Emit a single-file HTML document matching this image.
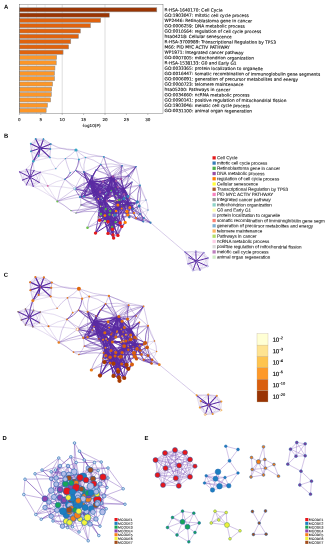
<!DOCTYPE html>
<html><head><meta charset="utf-8"><title>Figure</title>
<style>html,body{margin:0;padding:0;background:#fff;overflow:hidden;width:328px;height:550px}
svg{display:block;position:absolute;left:0;top:0}
.t{position:absolute;left:0;top:0;line-height:0;white-space:nowrap;transform-origin:0 0}
.d{-webkit-text-stroke:1.4px currentColor}
.l{-webkit-text-stroke:0.7px currentColor}
.l{font-family:"Liberation Sans",sans-serif}
.d{font-family:"DejaVu Sans","Liberation Sans",sans-serif}
</style></head>
<body><svg width="328" height="550" viewBox="0 0 328 550">
<defs><filter id="bl" x="-5%" y="-5%" width="110%" height="110%"><feGaussianBlur stdDeviation="0.35"/></filter></defs>
<rect width="328" height="550" fill="#fff"/>
<g id="panelA">
<line x1="27.96" y1="4.75" x2="27.96" y2="113.75" stroke="#cfcfcf" stroke-width="0.4"/>
<line x1="36.52" y1="4.75" x2="36.52" y2="113.75" stroke="#cfcfcf" stroke-width="0.4"/>
<line x1="45.08" y1="4.75" x2="45.08" y2="113.75" stroke="#cfcfcf" stroke-width="0.4"/>
<line x1="62.2" y1="4.75" x2="62.2" y2="113.75" stroke="#b4b4b4" stroke-width="0.45"/>
<line x1="105" y1="4.75" x2="105" y2="113.75" stroke="#b4b4b4" stroke-width="0.45"/>
<rect x="19.4" y="7.75" width="137.39" height="4.1" fill="#9a3503" stroke="#8e8e8e" stroke-width="0.55"/>
<rect x="19.4" y="13.05" width="89.88" height="4.1" fill="#9a3503" stroke="#8e8e8e" stroke-width="0.55"/>
<rect x="19.4" y="18.35" width="81.32" height="4.1" fill="#e0620d" stroke="#8e8e8e" stroke-width="0.55"/>
<rect x="19.4" y="23.65" width="71.05" height="4.1" fill="#e0620d" stroke="#8e8e8e" stroke-width="0.55"/>
<rect x="19.4" y="28.95" width="60.99" height="4.1" fill="#e0620d" stroke="#8e8e8e" stroke-width="0.55"/>
<rect x="19.4" y="34.25" width="59.06" height="4.1" fill="#e0620d" stroke="#8e8e8e" stroke-width="0.55"/>
<rect x="19.4" y="39.55" width="51.36" height="4.1" fill="#e0620d" stroke="#8e8e8e" stroke-width="0.55"/>
<rect x="19.4" y="44.85" width="49.22" height="4.1" fill="#e0620d" stroke="#8e8e8e" stroke-width="0.55"/>
<rect x="19.4" y="50.15" width="43.66" height="4.1" fill="#e0620d" stroke="#8e8e8e" stroke-width="0.55"/>
<rect x="19.4" y="55.45" width="37.24" height="4.1" fill="#fd9627" stroke="#8e8e8e" stroke-width="0.55"/>
<rect x="19.4" y="60.75" width="36.81" height="4.1" fill="#fd9627" stroke="#8e8e8e" stroke-width="0.55"/>
<rect x="19.4" y="66.05" width="35.52" height="4.1" fill="#fd9627" stroke="#8e8e8e" stroke-width="0.55"/>
<rect x="19.4" y="71.35" width="35.1" height="4.1" fill="#fd9627" stroke="#8e8e8e" stroke-width="0.55"/>
<rect x="19.4" y="76.65" width="35.1" height="4.1" fill="#fd9627" stroke="#8e8e8e" stroke-width="0.55"/>
<rect x="19.4" y="81.95" width="33.17" height="4.1" fill="#fd9627" stroke="#8e8e8e" stroke-width="0.55"/>
<rect x="19.4" y="87.25" width="32.31" height="4.1" fill="#fd9627" stroke="#8e8e8e" stroke-width="0.55"/>
<rect x="19.4" y="92.55" width="31.89" height="4.1" fill="#fd9627" stroke="#8e8e8e" stroke-width="0.55"/>
<rect x="19.4" y="97.85" width="31.24" height="4.1" fill="#fd9627" stroke="#8e8e8e" stroke-width="0.55"/>
<rect x="19.4" y="103.15" width="28.03" height="4.1" fill="#fd9627" stroke="#8e8e8e" stroke-width="0.55"/>
<rect x="19.4" y="108.45" width="26.75" height="4.1" fill="#fd9627" stroke="#8e8e8e" stroke-width="0.55"/>
<rect x="19.4" y="4.75" width="143.6" height="109" fill="none" stroke="#444" stroke-width="0.35"/>
<line x1="19.4" y1="113.75" x2="19.4" y2="114.95" stroke="#444" stroke-width="0.35"/>
<line x1="40.8" y1="113.75" x2="40.8" y2="114.95" stroke="#444" stroke-width="0.35"/>
<line x1="62.2" y1="113.75" x2="62.2" y2="114.95" stroke="#444" stroke-width="0.35"/>
<line x1="83.6" y1="113.75" x2="83.6" y2="114.95" stroke="#444" stroke-width="0.35"/>
<line x1="105" y1="113.75" x2="105" y2="114.95" stroke="#444" stroke-width="0.35"/>
<line x1="126.4" y1="113.75" x2="126.4" y2="114.95" stroke="#444" stroke-width="0.35"/>
<line x1="147.8" y1="113.75" x2="147.8" y2="114.95" stroke="#444" stroke-width="0.35"/>
</g>
<g id="netB" stroke-linecap="round" filter="url(#bl)">
<g stroke="#5A2BA2" fill="none">
<path d="M30.7 143.7L50.8 144M43.5 139.1L49.8 157.4M38.6 155.9L30.7 143.7M33.3 161.2L35.6 138.8M34 170.5L33.3 186.4M40.2 172.3L26.4 184.8M39.4 182.5L22.6 180M188.8 257.5L203.8 252.5M203.8 252.5L200 270M200 270L188.8 257.5" stroke-width="0.4" stroke-opacity="0.2"/>
<path d="M35.6 138.8L50.4 149M19.6 171.9L40.2 172.3M33.3 186.4L19.6 171.9M26.4 184.8L26.4 169.3M185 252L208 258M208 258L193 270.5M193 270.5L185 252" stroke-width="0.4" stroke-opacity="0.2"/>
<path d="M50.8 144L38.6 155.9M50.4 149L33.3 161.2M49.8 157.4L31 151.3M31 151.3L43.5 139.1M26.4 169.3L39.4 182.5M22.6 180L34 170.5M195.8 251.2L207.5 266.2M207.5 266.2L188 263.8M188 263.8L195.8 251.2" stroke-width="0.4" stroke-opacity="0.2"/>
<path d="M30.7 143.7L35.6 138.8M43.5 139.1L50.4 149M50.4 149L49.8 157.4M38.6 155.9L33.3 161.2M38.6 155.9L31 151.3M31 151.3L35.6 138.8M26.4 169.3L40.2 172.3M34 170.5L40.2 172.3M33.3 186.4L26.4 184.8M22.6 180L19.6 171.9M185 252L195.8 251.2M195.8 251.2L208 258M208 258L207.5 266.2M207.5 266.2L193 270.5M193 270.5L188 263.8M188 263.8L185 252M50.8 144Q62.5 150.8 76 150M49.8 157.4Q51.5 163.7 55.8 168.7M40.2 172.3Q53.3 173.3 64.9 179.3M39.4 182.5Q47.1 193.1 57.3 201.4M33.3 186.4Q53.5 196.4 71 210.6M47.8 185.9Q55.7 180.9 64.9 179.3M146 200Q142.3 202.7 139.2 206M148 210Q143.8 211.6 140 214M146 200Q143.5 192.5 140 185.4M150.5 222.7Q142.6 209 128 203M150.5 222.7Q136.9 215.5 128 203" stroke-width="0.4" stroke-opacity="0.4"/>
<path d="M30.7 143.7L43.5 139.1M35.6 138.8L50.8 144M49.8 157.4L33.3 161.2M19.6 171.9L26.4 169.3M19.6 171.9L34 170.5M34 170.5L39.4 182.5M40.2 172.3L33.3 186.4M39.4 182.5L26.4 184.8M26.4 184.8L22.6 180M26.4 184.8L19.6 171.9M22.6 180L26.4 169.3M47.8 185.9Q40.5 186.1 33.3 186.4M47.8 185.9Q44.3 178.9 40.2 172.3M188.8 257.5L185 252M185 252L203.8 252.5M203.8 252.5L208 258M208 258L200 270M200 270L193 270.5M193 270.5L188.8 257.5M50.4 149Q63.3 146.9 76 150M43.5 139.1Q57.6 151.1 76 150M124 189Q132.1 187.8 140 185.4M148 210Q143.5 208.2 139.2 206M148 210Q146.6 214.3 143.8 217.9" stroke-width="0.4" stroke-opacity="0.4"/>
<path d="M35.6 138.8L43.5 139.1M43.5 139.1L50.8 144M50.8 144L50.4 149M50.8 144L49.8 157.4M50.4 149L38.6 155.9M49.8 157.4L38.6 155.9M33.3 161.2L31 151.3M33.3 161.2L30.7 143.7M31 151.3L30.7 143.7M26.4 169.3L34 170.5M40.2 172.3L39.4 182.5M39.4 182.5L33.3 186.4M33.3 186.4L22.6 180M33.3 161.2Q29.9 165.3 26.4 169.3M33.3 161.2Q33.5 165.9 34 170.5M47.8 185.9Q43.6 184.3 39.4 182.5M188.8 257.5L195.8 251.2M195.8 251.2L203.8 252.5M203.8 252.5L207.5 266.2M207.5 266.2L200 270M200 270L188 263.8M188 263.8L188.8 257.5M40.2 172.3Q47.9 170.1 55.8 168.7M47.8 185.9Q52.1 193.9 57.3 201.4M47.8 185.9Q61.4 186.3 74.8 188.8M49.8 157.4Q57.5 159.7 65.4 158.6M146 200Q141.6 200.5 137.4 201.9" stroke-width="0.4" stroke-opacity="0.4"/>
<path d="M76 150Q71.4 155.1 65.4 158.6M76 150Q89.4 155.4 103.8 156.8M85.5 157.5Q94.6 155.4 103.8 156.8M65.4 158.6Q67.1 165.9 70.2 172.8M78.9 159.5Q80 166.3 84 172M70.2 172.8Q73 171.8 75.6 170.5M85.5 157.5Q93.8 159.3 100.7 164.4M135.9 166.8Q138.2 176 140 185.4M103.8 156.8Q119 164.4 135.9 166.8M84 172Q78.8 180.1 74.8 188.8M80 197Q82 196.9 84 196.4M92 176Q94.7 173.5 96 170M90 186Q82.5 188.1 74.8 188.8M81 205Q78.9 209.3 76 213M76 213Q73.3 212.3 71 210.6M122.1 165.7Q124.7 171.4 129 176M140 185.4Q141.8 193.2 146 200M146 200Q148.2 204.8 148 210M74.8 188.8Q66.1 195.2 57.3 201.4M112 188Q120.6 178.4 122.1 165.7M112 177Q104 173.6 96 170M112 177Q106.5 167.5 103.8 156.8M104 200Q93.5 200.9 84 196.4M100 207Q85.7 210.7 71 210.6" stroke-width="0.4" stroke-opacity="0.6"/>
<path d="M76 150Q77.4 154.8 78.9 159.5M78.9 159.5Q82.1 158.2 85.5 157.5M85.5 157.5Q83.1 164.6 84 172M103.8 156.8Q102.2 160.6 100.7 164.4M122.1 165.7Q129 166.1 135.9 166.8M64.9 179.3Q69.8 184.1 74.8 188.8M96 170Q99 167.8 100.7 164.4M71 210.6Q64.7 205.1 57.3 201.4M57.3 201.4Q68.5 198.7 80 197M129 176Q133.5 172.2 135.9 166.8M64.9 179.3Q58.9 189.6 57.3 201.4M112 177Q115.2 169.7 122.1 165.7M108 214Q124.3 211.7 137.4 201.9M124 189Q133.3 195.9 139.2 206M140 185.4Q133.1 193.3 124 198.4M150.5 222.7L185 252M150.5 222.7Q144.8 218.9 140 214M150.5 222.7Q143.7 219 136 218" stroke-width="0.4" stroke-opacity="0.6"/>
<path d="M76 150Q80.5 154 85.5 157.5M65.4 158.6Q72.2 157.7 78.9 159.5M65.4 158.6Q59.8 162.9 55.8 168.7M75.6 170.5Q79.8 171.5 84 172M100.7 164.4Q92.9 169.4 84 172M103.8 156.8Q113.5 160.1 122.1 165.7M100.7 164.4Q111.5 162.6 122.1 165.7M84 172Q84.2 184.2 84 196.4M80 197Q81 200.9 81 205M129 176Q134.8 180.4 140 185.4M96 170Q108.8 166 122.1 165.7M124 189Q119.7 177.6 122.1 165.7M95 192Q77.7 191 64.9 179.3M104 200Q89.2 210.6 71 210.6M108 214Q97.5 220.6 87.5 227.8M112 188Q124.3 206.8 143.8 217.9M150.5 222.7Q147.7 219.6 143.8 217.9M150.5 222.7Q146.8 222.7 143.3 221.5M150.5 222.7Q144.5 214.6 139.2 206" stroke-width="0.4" stroke-opacity="0.6"/>
<path d="M33.3 161.2Q36.5 159.1 38.6 155.9M112 188Q100.2 188.9 88.5 189.3M112 188Q115.3 194.2 119.4 199.9M108 214Q118.5 216.7 129.3 217.1M100 207Q106.1 196.7 115.3 188.8M90 181Q103.9 193.5 121.6 199.8M90 181Q107.6 188.5 124 198.4M112 188Q96.2 183.1 84 172M112 188Q96.9 181.9 84 172M112 177Q107.8 169.4 100.7 164.4M112 177Q105 171.9 100.7 164.4M112 177Q104.6 172.2 96 170M112 177Q105.8 167.8 103.8 156.8M124 189Q130.3 178.1 135.9 166.8M104 200Q93.5 200.9 84 196.4M100 207Q90.2 209.3 81 205M121 179Q130.8 175.8 135.9 166.8M124 198.4Q124.6 202.1 126.2 205.4" stroke-width="0.6" stroke-opacity="0.6"/>
<path d="M104 200Q113.3 200.9 121.6 205.3M100 207Q105.6 209.7 109.5 214.5M112 188Q102.6 181 92 176M112 188Q100.3 184.9 92 176M112 177Q117.6 171.8 122.1 165.7M112 177Q120.6 178.3 129 176M95 192Q84.7 191.6 74.8 188.8M95 192Q75.3 193.2 57.3 201.4M104 200Q87.8 198.6 74.8 188.8M100 207Q87.7 209 76 213M100 207Q90.9 215.7 87.5 227.8M110.2 196.2Q122.1 180.7 135.9 166.8M108 214Q124 211.7 140 214M127.8 214.8Q128.9 210.7 129.9 206.5M134 213Q132.6 209.3 129.9 206.5M100.6 206.4Q100.1 209 98.8 211.2M127.8 214.8Q127.4 213.1 127 211.5M116.9 191.3Q113.9 191.2 111 191.6M105.8 193.8Q102.7 193.5 100 192M132.3 204.3Q131.5 200.9 129.6 198M113.6 238.1Q118.4 232.9 121.7 226.6" stroke-width="0.6" stroke-opacity="0.6"/>
<path d="M112 188Q109.8 174.6 100.7 164.4M112 177Q122.5 168.5 135.9 166.8M124 189Q131.5 185.4 139.8 185.3M95 192Q87.4 194.3 80 197M95 192Q94.1 183.9 92 176M104 200Q92.9 204.3 81 205M108 214Q92.1 209.1 76 213M113 222Q99.5 221.5 87.5 227.8M118 187Q128.8 178.6 135.9 166.8M128 203Q136.5 211.5 143.3 221.5M105.7 209Q102.1 209.6 98.8 211.2M112.5 215Q111.6 212.9 110.2 211M99.6 220.2Q102.2 221.1 104.9 221.2M109.5 214.5Q107.3 212 105.7 209M129.9 206.5Q130.9 205.3 132.3 204.3M105.7 209Q103.1 207.9 100.6 206.4M133 209Q130.1 210.4 127 211.5M143.8 217.9Q146.9 220.6 150.5 222.7M119.5 194.1Q117.6 194.4 116 195.4M121.7 208.4Q120.6 204.1 119.4 199.9M104.9 215.6Q105.4 212.3 105.7 209M116 195.4Q116.5 197.9 117.1 200.4M116 181Q109.5 181.2 103 181.5M140 185.4Q134.4 191.5 127.8 196.5" stroke-width="0.6" stroke-opacity="0.6"/>
<path d="M112 188Q105.7 189.2 100 192M104 200Q107.5 205.3 110.2 211M112 177Q113.1 191.3 117.9 204.9M100 207Q107.6 198.2 116.9 191.3M128 203Q123 199.3 119.5 194.1M95 192Q87.1 193.3 80 197M95 192Q92.9 184.1 92 176M104 200Q92.2 197.3 80 197M104 200Q91.9 199.3 80 197M121 179Q120.1 172.2 122.1 165.7M108 233.4Q110.5 234 113 234.9M139.2 206Q136.2 209.2 134 213M113 176.5Q115.4 182.4 115.3 188.8M106.7 192.3Q108.8 193.9 110.2 196.2M115.6 222.1Q111.8 221.7 108 221.7M129.6 198Q125.5 198.5 121.6 199.8" stroke-width="0.8" stroke-opacity="0.6"/>
<path d="M104 200Q110.5 201.5 117.1 200.4M118 206Q125.5 207.6 133 209M108 214Q112.6 208.1 115.1 201.1M95 192Q109.1 197 124 198.4M95 192Q95.8 201.8 98.8 211.2M113 222Q120.4 218.3 127.8 214.8M90 181Q94.9 193.9 100.6 206.4M90 181Q105.6 181.8 121 179M109.5 214.5Q105.8 215.3 102.7 217.5M120.2 222.9Q116.4 226.2 112.5 229.3M109.5 214.5Q106.1 216 102.7 217.5M117.9 235.4Q119 230.6 121.7 226.6M113 234.9Q113.6 228.4 115.6 222.1" stroke-width="0.8" stroke-opacity="0.6"/>
<path d="M124 189Q126.9 198.3 129.8 207.7M124 189Q111.7 187.9 100 192M113 222Q115.5 213.5 117.9 204.9M100 207Q104.4 218 112.1 227M128 203Q134.4 208.1 140 214M95 192Q86.1 183.9 84 172M104 200Q99 191 90 186M95.5 233.1Q99.5 226.6 104.9 221.2M104 187.1Q107.6 191.3 110.2 196.2M113 176.5Q114.8 178.6 116 181M98.4 216.9Q99.7 215.4 101 214M98.4 216.9Q100 215.7 101 214M100 192Q103.1 192.3 105.8 193.8M101 214Q103.2 211.4 105.7 209M132 182.1Q123.8 185.8 115.3 188.8" stroke-width="0.8" stroke-opacity="0.6"/>
<path d="M112 188Q106.7 193.3 102.5 199.5M129.9 206.5Q133.2 205.3 136.1 203.3" stroke-width="1" stroke-opacity="0.6"/>
<path d="M129.9 206.5Q129.9 207.1 129.8 207.7" stroke-width="1" stroke-opacity="0.6"/>
<path d="M127.8 214.8Q129.4 210.8 129.9 206.5M100 192Q102.9 193 105.8 193.8" stroke-width="1" stroke-opacity="0.6"/>
<path d="M112 177Q123.7 171.3 135.9 166.8M103 181.5Q109.9 170.3 122.1 165.7" stroke-width="0.4" stroke-opacity="0.8"/>
<path d="M112 177Q120.5 176.7 129 176M95 192Q84.6 192.1 74.8 188.8" stroke-width="0.4" stroke-opacity="0.8"/>
<path d="M95 192Q90 195.5 84 196.4M100 207Q90.4 207.2 81 205M116 181Q118.8 173.3 122.1 165.7" stroke-width="0.4" stroke-opacity="0.8"/>
<path d="M112 188Q114.7 193.4 116 199.3M108 214Q108.8 207.4 107 201M113 222Q117.7 213.9 121.6 205.3M100 207Q89.1 203.9 80 197M90 181Q92.8 175.4 96 170M100 192Q98.9 195.3 98.3 198.8M127.8 214.8Q128.5 216 129.3 217.1M119.4 199.9Q117.2 200.2 115.1 201.1M102.7 217.5Q106.1 216.1 109.5 214.5M98.8 211.2Q99.7 212.8 101 214M109.5 214.5Q108.7 218.1 108 221.7M107 201Q111 201.4 115.1 201.1M129.8 207.7Q131.5 208.1 133 209M116 195.4Q114.2 192.5 111.4 190.6M129.8 207.7Q133.1 205.7 136.1 203.3M113.6 238.1Q117.1 230.6 120.2 222.9" stroke-width="0.6" stroke-opacity="0.8"/>
<path d="M95 192Q105.8 202 112.5 215M124 189Q127.5 201.6 134 213M112 177Q122.3 190.6 132.3 204.3M124 189Q127.5 182.9 129 176M104 200Q91.8 199.1 81 205M90 181Q91 178.5 92 176M90 181Q91.1 178.6 92 176M121.7 208.4Q120.5 204.2 119.4 199.9M121 179Q116.1 184.7 111.4 190.6M109.5 214.5Q107.2 212 105.7 209M136 218Q138.2 216.2 140 214M88.5 189.3Q95.1 195 102.5 199.5M127 211.5Q128.4 209 129.9 206.5M140 214Q137 209 136.1 203.3M115.6 222.1Q114.4 225.9 112.5 229.3M108 221.7Q110.8 218.8 112.5 215M129.8 207.7Q129.6 211.5 127.8 214.8M129.8 207.7Q128.5 211.2 127.8 214.8M116 211Q112.4 212 109.5 214.5" stroke-width="0.6" stroke-opacity="0.8"/>
<path d="M124 189Q115.3 192.9 105.8 193.8M112 177Q119.7 190.2 121.6 205.3M128 203Q132.8 203.1 137.4 201.9M112 188Q125.9 179.6 135.9 166.8M95 192Q93.3 188.4 90 186M90 181Q86.7 176.7 84 172M90 181Q81.6 183.4 74.8 188.8M119.5 194.1Q119 197.5 117.1 200.4M150.5 222.7Q143.7 218.9 136 218M115.6 222.1Q115.5 218.6 114.8 215.1M115.6 222.1Q114.9 218.6 114.8 215.1M117.9 204.9Q116.9 207.9 116 211M111.4 190.6Q111.1 191.1 111 191.6M136 218Q132.2 215.6 127.8 214.8M119.5 194.1Q118.7 197.4 117.1 200.4M116 211Q114.1 212.9 112.5 215M108 233.4Q110.3 231.4 112.5 229.3M102.5 199.5Q102 203.1 100.6 206.4M140 185.4Q141.6 195.8 139.2 206" stroke-width="0.6" stroke-opacity="0.8"/>
<path d="M33.3 161.2L40.2 148.2M78.9 159.5Q78.5 165.4 75.6 170.5M70.2 172.8Q68.1 176.5 64.9 179.3M90 186Q86.5 190.9 84 196.4M118 206Q122 200.4 127.8 196.5M118 206Q122.6 212.6 129.3 217.1M108 214Q112.9 223.9 113 234.9M113 222Q114.1 228.4 113 234.9M112 177Q117 186.3 124 194.2M100 207Q108.2 208.3 116 211M90 181Q101.7 195.6 117.9 204.9M118 206Q111.8 219.3 108 233.4M118 206Q118.7 220.7 117.9 235.4M118 206Q117.8 216.7 121.7 226.6M128 203Q116.6 209.5 104.9 215.6M124 189Q118.8 199.6 116 211M108 214Q118.2 208.6 129.8 207.7M128 203Q124.5 205.3 121.7 208.4M124 189Q128.3 202.7 129.3 217.1M133 209Q133.2 206.6 132.3 204.3M113 234.9Q110.5 234.2 108 233.4M121.7 208.4Q118.8 209.5 116 211M120.2 222.9Q123.2 218.1 127.8 214.8M108 221.7Q110 218.2 112.5 215M133 209Q129.3 207.7 126.2 205.4M88.5 189.3Q90.6 194.2 94.5 197.8M119.4 199.9Q118.2 199.9 117.1 200.4M132.3 204.3Q132.7 206.7 133 209M143.3 221.5Q134.9 219.8 127.8 214.8M119.5 194.1Q117.7 196.7 116 199.3M98.8 211.2Q98.1 214 98.4 216.9M118 187Q116.8 188.1 115.3 188.8" stroke-width="0.8" stroke-opacity="0.8"/>
<path d="M75.6 170.5Q71.3 176.1 64.9 179.3M104 200Q102.3 210.7 104.9 221.2M118 206Q119.9 214.9 125.2 222.4M113 222Q106.2 221.5 99.6 220.2M128 203Q122 201.3 116 199.3M95 192Q89.8 194.9 84 196.4M100 207Q89.9 202.2 80 197M90 181Q93.9 176 96 170M90 181Q84.5 173.4 75.6 170.5M90 181Q94.4 172.1 100.7 164.4M113 222Q110.5 227.7 108 233.4M118 206Q123.4 213.4 125.2 222.4M108 214Q120.9 211.8 134 213M124 189Q129 203.9 136 218M108 214Q111.3 214.9 114.8 215.1M128 203Q122 209.7 114.8 215.1M124 189Q129.6 198.5 133 209M143.8 217.9Q139.1 212.6 133 209M143.8 217.9Q139.9 217.6 136 218M116 211Q115 206.1 115.1 201.1M121 179Q123 186.5 124 194.2M115.6 222.1Q114.1 224.7 112.1 227M112.5 229.3Q116.5 226.3 120.2 222.9M132 182.1Q129.4 189.8 129.6 198M124 194.2Q123 197.1 121.6 199.8M127.8 196.5Q123.5 197.9 119.4 199.9M117.9 204.9Q119.9 202.5 121.6 199.8M140 185.4Q137.2 193.4 137.4 201.9" stroke-width="0.8" stroke-opacity="0.8"/>
<path d="M74.8 188.8Q77.4 192.9 80 197M84 172Q88.2 173.6 92 176M92 176Q90.2 180.8 90 186M104 200Q111.2 206.3 114.8 215.1M108 214Q116.3 208.1 126.2 205.4M95 192Q86.9 183.4 84 172M95 192Q93.6 188.1 90 186M104 200Q90.6 191.4 74.8 188.8M104 200Q95.1 194.9 90 186M90 181Q87.2 176.4 84 172M90 181Q90.6 183.5 90 186M90 181Q82.9 185.9 74.8 188.8M95 192Q91.7 189.7 90 186M113 222Q113.2 230.1 113.6 238.1M108 214Q110.9 226 113.6 238.1M112 188Q113.2 197.1 117.9 204.9M128 203Q123.1 204.8 117.9 204.9M124 189Q117.1 204.2 104.9 215.6M112 188Q121.2 198.7 127 211.5M112 188Q118.7 205.2 125.2 222.4M128 203Q130.9 211.1 136 218M112 188Q120.5 200.5 133 209M113 176.5Q114.2 178.9 116 181M117.9 235.4Q120.9 228.5 125.2 222.4M99.6 220.2Q100.7 217.2 101 214M124 198.4Q121.8 196.2 119.5 194.1M117.9 235.4Q114.7 232.8 112.5 229.3M115.3 188.8Q115.4 184.9 116 181M143.3 221.5Q141.3 213.7 139.2 206M117.9 235.4Q114.6 232.9 112.5 229.3M98.8 211.2Q104.4 212.2 109.5 214.5M117.1 200.4Q119.4 200.1 121.6 199.8M127 211.5Q127.6 213.1 127.8 214.8M121.7 226.6Q118.9 224 115.6 222.1M111.4 190.6Q114.6 188.7 118 187" stroke-width="0.8" stroke-opacity="0.8"/>
<path d="M33.3 161.2Q30.1 168.9 30.2 177.2M118 206Q115.3 210.5 112.5 215M124 189Q125.6 198.2 129.9 206.5M113 222Q114.1 218.6 114.8 215.1M128 203Q129 200.5 129.6 198M128 203Q124.9 204.5 121.6 205.3M90 181Q85 187.9 84 196.4M90 181Q88 189.1 84 196.4M90 181Q82.1 176.8 75.6 170.5M90 181Q94 171.8 100.7 164.4M95 192Q89.2 193.3 84 196.4M104 200Q97.4 216 95.5 233.1M104 200Q110.1 212.9 120.2 222.9M108 214Q111.9 212.2 116 211M118 206Q122.9 208.1 127 211.5M112 188Q121.9 200.2 127.8 214.8M112 188Q123.9 199.8 134 213M143.3 221.5Q139.8 219.4 136 218M139.2 206Q136.1 207.5 133 209M95.5 233.1Q100.6 226 102.7 217.5M121.7 208.4Q119.5 207 117.9 204.9M117.9 204.9Q119.5 202.2 121.6 199.8M124 194.2Q121.7 194 119.5 194.1M115.1 201.1Q115.5 200.2 116 199.3" stroke-width="1" stroke-opacity="0.8"/>
<path d="M104 200Q101.2 199.2 98.3 198.8M95 192Q103 193.4 111 191.6M95 192Q106.1 187.8 118 187M124 189Q127.1 193.3 129.6 198M128 203Q122.9 212.5 120.2 222.9M90 181Q87.8 190.7 80 197M90 181Q84.7 188.8 80 197M95 192Q93 184.1 92 176M95 192Q87.9 195.7 80 197M118 206Q108.6 212.9 99.6 220.2M104 200Q106.9 210.7 108 221.7M128 203Q128.5 205.5 129.8 207.7M118 206Q123 210.3 127.8 214.8M108 214Q115.1 205.2 124 198.4M124 189Q126.5 192.4 127.8 196.5M118 206Q122.7 201 127.8 196.5M118 206Q124.4 210.8 129.3 217.1M117.9 204.9Q122 205.7 126.2 205.4M110.2 196.2Q108.1 194.8 105.8 193.8M118 187Q114.3 189 111 191.6M113.6 238.1Q112.8 233.7 112.5 229.3" stroke-width="1" stroke-opacity="0.8"/>
<path d="M118 206Q121 202.2 124 198.4M124 189Q122.6 184 121 179M112 177Q110.3 189.2 107 201M100 207Q100.3 206.7 100.6 206.4M100 207Q99.3 209.1 98.8 211.2M90 181Q90.3 183.5 90 186M95 192Q86.7 183.5 84 172M118 206Q118.9 214.5 120.2 222.9M124 189Q123.9 198.8 121.7 208.4M118 206Q120.4 201.7 124 198.4M125.2 222.4Q123.1 224.2 121.7 226.6M102.5 199.5Q98.3 199.5 94.5 197.8M129.6 198Q133.9 199.2 137.4 201.9M121.7 226.6Q123.8 224.8 125.2 222.4" stroke-width="1" stroke-opacity="0.8"/>
<path d="M112 188Q113.6 188.5 115.3 188.8M112 188Q115 187.6 118 187M112 188Q108.1 187.2 104 187.1M108 214Q104.5 214.1 101 214M95 192Q91.6 191 88.5 189.3M95 192Q102.6 194.1 110.2 196.2M124 189Q124.5 193.7 124 198.4M113 222Q110.5 221.8 108 221.7M113 222Q112.5 218.5 112.5 215M113 222Q111 216.7 110.2 211M112 177Q115.1 183.9 116.9 191.3M100 207Q97.3 202.4 94.5 197.8M128 203Q130.8 205.8 133 209M128 203Q127.5 207.2 127 211.5M112 188Q107.9 194 104 200M112 188Q103.7 190.8 95 192M112 188Q111.7 182.5 112 177M112 188Q101 184.6 90 181M104 200Q106.1 207 108 214M104 200Q107.5 211.4 113 222M104 200Q116 201.6 128 203M118 206Q120.3 197.2 124 189M118 206Q109 207.1 100 207M108 214Q101.9 202.8 95 192" stroke-width="1.2" stroke-opacity="0.8"/>
<path d="M112 188Q113.9 184.4 116 181M104 200Q102.5 199.1 101.2 198M104 200Q104.8 196.9 105.8 193.8M108 214Q111.4 214.6 114.8 215.1M95 192Q100.8 192.2 106.7 192.3M124 189Q120.9 188.2 118 187M112 177Q116.4 178.5 121 179M90 181Q97.9 187.3 106.7 192.3M112 188Q119.6 196 128 203M104 200Q111.3 202.4 118 206M104 200Q114.5 195.4 124 189M104 200Q102.1 203.5 100 207M108 214Q110.3 218.1 113 222M108 214Q117.6 207.7 128 203M95 192Q97 199.7 100 207M124 189Q118 183 112 177M113 222Q121 212.9 128 203M113 222Q106.5 219.9 99.6 220.2M118 206Q111.5 212.9 108 221.7M100 207Q103.7 214.5 108 221.7M100 207Q103.8 223.9 113.6 238.1M113 222Q117 225 121.7 226.6" stroke-width="1.2" stroke-opacity="0.8"/>
<path d="M118 206Q116.8 210.7 114.8 215.1M108 214Q108.8 214.2 109.5 214.5M124 189Q120 185 116 181M112 177Q114.3 182.7 115.3 188.8M112 177Q107.7 181.8 104 187.1M100 207Q103.8 204.4 107 201M100 207Q99.3 212 98.4 216.9M90 181Q101.5 178.5 113 176.5M112 188Q115 197 118 206M112 188Q118 188.1 124 189M112 188Q105.7 197.3 100 207M104 200Q99.5 196 95 192M104 200Q107.6 188.4 112 177M104 200Q97.9 189.8 90 181M118 206Q112.9 209.8 108 214M118 206Q116.2 214.2 113 222M118 206Q123.1 204.7 128 203M108 214Q104.2 210.3 100 207M95 192Q103.4 184.4 112 177M95 192Q92.7 186.4 90 181M124 189Q126.3 195.9 128 203M113 222Q105.9 215 100 207M112 177Q100.9 178.2 90 181M104 200Q110.3 214 112.5 229.3M108 214Q111 224.3 113 234.9" stroke-width="1.2" stroke-opacity="0.8"/>
<path d="M112 188Q111.6 189.3 111.4 190.6M104 200Q102 196 100 192M95 192Q98.3 194.8 101.2 198M100 207Q105 209.3 110.2 211M90 181Q97.3 188.2 105.8 193.8M108 214Q103.8 217.2 99.6 220.2M118 206Q115 217.6 112.5 229.3" stroke-width="1.4" stroke-opacity="0.8"/>
<path d="M104 200Q107.2 198.3 110.2 196.2M108 214Q109 212.4 110.2 211M108 214Q105.3 215.7 102.7 217.5M108 214Q108.3 217.8 108 221.7M124 189Q123.1 194.5 121.6 199.8M113 222Q107.9 219.6 102.7 217.5M128 203Q127 204.1 126.2 205.4M90 181Q88.8 185.1 88.5 189.3" stroke-width="1.4" stroke-opacity="0.8"/>
<path d="M124 189Q120.2 192.5 116 195.4M113 222Q112.4 224.5 112.1 227M100 207Q102.9 207.8 105.7 209" stroke-width="1.4" stroke-opacity="0.8"/>
<path d="M112 188Q114.5 189.5 116.9 191.3M112 188Q111.5 192.2 110.2 196.2M104 200Q105.7 196.3 106.7 192.3M108 214Q103.3 215.6 98.4 216.9M95 192Q97.5 192 100 192M95 192Q99.1 195.4 102.5 199.5M95 192Q100.4 193.3 105.8 193.8M124 189Q119.6 189.2 115.3 188.8" stroke-width="1.6" stroke-opacity="0.8"/>
<path d="M104 200Q107.6 195.9 111 191.6M124 189Q126.1 192.6 127.8 196.5M112 177Q112.5 176.8 113 176.5M112 177Q111.7 184.3 111 191.6M90 181Q97.1 183.9 104 187.1" stroke-width="1.6" stroke-opacity="0.8"/>
<path d="M118 206Q119.7 207.4 121.7 208.4M112 177Q112.1 183.8 111.4 190.6M100 207Q102.6 211.2 104.9 215.6M128 203Q130.2 203.6 132.3 204.3M90 181Q100.4 186.5 111.4 190.6" stroke-width="1.6" stroke-opacity="0.8"/>
<path d="M30.2 177.2L19.6 171.9M30.2 177.2L22.6 180M30.2 177.2L39.4 182.5M196.2 261.2L195.8 251.2M196.2 261.2L207.5 266.2M196.2 261.2L188 263.8M118 206Q119.8 205.7 121.6 205.3M118 206Q117.3 202.6 116 199.3M95 192Q96.7 195.4 98.3 198.8M124 189Q120.3 189.7 116.9 191.3M113 222Q108.9 221.7 104.9 221.2M128 203Q125.7 200.9 124 198.4M128 203Q124.7 205.6 121.7 208.4M90 181Q94.4 189.8 98.3 198.8M90 181Q100.1 187.1 111 191.6M113 222Q104.1 227.4 95.5 233.1M108 214Q100.9 223 95.5 233.1M100 207Q111.6 219.6 117.9 235.4" stroke-width="1" stroke-opacity="1"/>
<path d="M30.2 177.2L26.4 169.3M30.2 177.2L26.4 184.8M30.2 177.2L34 170.5M196.2 261.2L203.8 252.5M196.2 261.2L200 270M196.2 261.2L188.8 257.5M118 206Q114.2 208.7 110.2 211M100 207Q108.2 217.1 112.5 229.3" stroke-width="1" stroke-opacity="1"/>
<path d="M30.2 177.2L40.2 172.3M30.2 177.2L33.3 186.4M196.2 261.2L185 252M196.2 261.2L208 258M196.2 261.2L193 270.5M113 222Q112.4 225.6 112.5 229.3M100 207Q101.3 203.3 102.5 199.5" stroke-width="1" stroke-opacity="1"/>
<path d="M40.2 148.2L35.6 138.8M40.2 148.2L50.8 144M40.2 148.2L38.6 155.9M104 200Q103.3 199.7 102.5 199.5M118 206Q117.9 205.5 117.9 204.9M108 214Q106.6 211.6 105.7 209M95 192Q98.4 186.3 103 181.5M95 192Q98 199.1 100.6 206.4M124 189Q124.1 191.6 124 194.2M112 177Q116 185.5 119.5 194.1M100 207Q100.6 210.5 101 214M90 181Q96.5 181.9 103 181.5M104 200Q106.8 217.9 113 234.9M113 222Q114.7 229 117.9 235.4" stroke-width="1.2" stroke-opacity="1"/>
<path d="M40.2 148.2L43.5 139.1M40.2 148.2L50.4 149M40.2 148.2L49.8 157.4M104 200Q109.5 201 115.1 201.1M118 206Q117.6 203.2 117.1 200.4M118 206Q120.1 203.1 121.6 199.8M108 214Q110.3 214.4 112.5 215M124 189Q121.9 191.7 119.5 194.1M113 222Q114.3 222.1 115.6 222.1M100 207Q100.4 202.5 101.2 198M128 203Q129 204.8 129.9 206.5M100 207Q106.5 220.9 113 234.9" stroke-width="1.2" stroke-opacity="1"/>
<path d="M40.2 148.2L30.7 143.7M40.2 148.2L31 151.3M40.2 148.2L33.3 161.2M112 188Q108.7 190.7 105.8 193.8M112 188Q115.6 191.2 119.5 194.1M108 214Q103.5 212.3 98.8 211.2M95 192Q99.8 190.1 104 187.1M124 189Q128.2 185.8 132 182.1M113 222Q116.6 222.7 120.2 222.9M113 222Q111 218.4 109.5 214.5M113 222Q109.2 218.5 104.9 215.6M128 203Q129 205.3 129.8 207.7M128 203Q124.6 201.8 121.6 199.8M100 207Q105.7 219.7 108 233.4" stroke-width="1.2" stroke-opacity="1"/>
<path d="M112 188Q111.5 189.8 111 191.6M104 200Q105.5 200.6 107 201M104 200Q105 204.5 105.7 209M95 192Q101.3 196 107 201M112 177Q114.1 178.9 116 181M104 200Q114.3 212.3 121.7 226.6" stroke-width="1.4" stroke-opacity="1"/>
<path d="M112 188Q109.5 190.4 106.7 192.3M112 188Q107.6 184.6 103 181.5M118 206Q116.5 203.6 115.1 201.1M118 206Q118.7 203 119.4 199.9M108 214Q106.5 214.9 104.9 215.6M108 214Q106.4 217.6 104.9 221.2M112 177Q115.6 181.6 118 187M108 214Q113.7 219 120.2 222.9" stroke-width="1.4" stroke-opacity="1"/>
<path d="M104 200Q102.2 203.2 100.6 206.4M104 200Q99.3 198.6 94.5 197.8M95 192Q94.6 194.9 94.5 197.8M113 222Q117.2 224.5 121.7 226.6M112 177Q107.7 179.6 103 181.5M112 177Q108.4 185.2 105.8 193.8M100 207Q100.9 212.3 102.7 217.5M128 203Q127.8 199.8 127.8 196.5M90 181Q94.9 186.6 100 192" stroke-width="1.4" stroke-opacity="1"/>
<path d="M112 188Q114.3 191.5 116 195.4M118 206Q122.1 205.5 126.2 205.4M108 214Q112.1 212.8 116 211M112 177Q109.4 184.7 106.7 192.3M100 207Q99.6 202.8 98.3 198.8M90 181Q91.7 189.6 94.5 197.8M90 181Q95 189.9 101.2 198M90 181Q95.3 190.9 102.5 199.5" stroke-width="1.6" stroke-opacity="1"/>
<path d="M118 206Q116.9 208.5 116 211" stroke-width="1.6" stroke-opacity="1"/>
<path d="M128 203Q132.1 202.9 136.1 203.3" stroke-width="1.6" stroke-opacity="1"/>
</g>
<circle cx="112" cy="188" r="0.3" fill="#5B2CA0"/>
<circle cx="104" cy="200" r="0.3" fill="#5B2CA0"/>
<circle cx="118" cy="206" r="0.3" fill="#5B2CA0"/>
<circle cx="108" cy="214" r="0.3" fill="#5B2CA0"/>
<circle cx="95" cy="192" r="0.3" fill="#5B2CA0"/>
<circle cx="124" cy="189" r="0.3" fill="#5B2CA0"/>
<circle cx="113" cy="222" r="0.3" fill="#5B2CA0"/>
<circle cx="112" cy="177" r="0.3" fill="#5B2CA0"/>
<circle cx="100" cy="207" r="0.3" fill="#5B2CA0"/>
<circle cx="128" cy="203" r="0.3" fill="#5B2CA0"/>
<circle cx="90" cy="181" r="0.3" fill="#5B2CA0"/>
<circle cx="40.2" cy="148.2" r="0.5" fill="#35A7C4"/>
<circle cx="30.2" cy="177.2" r="0.5" fill="#8A63BE"/>
<circle cx="196.2" cy="261.2" r="0.5" fill="#9C96DC"/>
<circle cx="139.8" cy="185.3" r="0.5" fill="#35A7C4"/>
<circle cx="121.6" cy="205.3" r="0.5" fill="#4DAF4A"/>
<circle cx="126.2" cy="205.4" r="0.51" fill="#4DAF4A"/>
<circle cx="116" cy="199.3" r="0.51" fill="#8DD3C7"/>
<circle cx="121.6" cy="199.8" r="0.53" fill="#80B1D3"/>
<circle cx="94.5" cy="197.8" r="0.54" fill="#8DD3C7"/>
<circle cx="115.3" cy="188.8" r="0.56" fill="#4DAF4A"/>
<circle cx="102.7" cy="217.5" r="0.57" fill="#4DAF4A"/>
<circle cx="106.7" cy="192.3" r="0.57" fill="#80B1D3"/>
<circle cx="88.5" cy="189.3" r="0.6" fill="#8DD3C7"/>
<circle cx="19.6" cy="171.9" r="0.6" fill="#8A63BE"/>
<circle cx="26.4" cy="169.3" r="0.6" fill="#8A63BE"/>
<circle cx="40.2" cy="172.3" r="0.6" fill="#8A63BE"/>
<circle cx="22.6" cy="180" r="0.6" fill="#8A63BE"/>
<circle cx="26.4" cy="184.8" r="0.6" fill="#8A63BE"/>
<circle cx="33.3" cy="186.4" r="0.6" fill="#8A63BE"/>
<circle cx="39.4" cy="182.5" r="0.6" fill="#8A63BE"/>
<circle cx="34" cy="170.5" r="0.6" fill="#8A63BE"/>
<circle cx="55.8" cy="168.7" r="0.6" fill="#35A7C4"/>
<circle cx="75.6" cy="170.5" r="0.6" fill="#35A7C4"/>
<circle cx="92" cy="176" r="0.6" fill="#35A7C4"/>
<circle cx="96" cy="170" r="0.6" fill="#35A7C4"/>
<circle cx="90" cy="186" r="0.6" fill="#35A7C4"/>
<circle cx="81" cy="205" r="0.6" fill="#6CC24A"/>
<circle cx="76" cy="213" r="0.6" fill="#6CC24A"/>
<circle cx="129" cy="176" r="0.6" fill="#35A7C4"/>
<circle cx="146" cy="200" r="0.6" fill="#35A7C4"/>
<circle cx="148" cy="210" r="0.6" fill="#35A7C4"/>
<circle cx="129.9" cy="206.5" r="0.61" fill="#8DD3C7"/>
<circle cx="116.9" cy="191.3" r="0.61" fill="#80B1D3"/>
<circle cx="129.6" cy="198" r="0.64" fill="#FDB462"/>
<circle cx="102.5" cy="199.5" r="0.65" fill="#80B1D3"/>
<circle cx="112.5" cy="215" r="0.65" fill="#FDB462"/>
<circle cx="98.4" cy="216.9" r="0.65" fill="#B3DE69"/>
<circle cx="111" cy="191.6" r="0.66" fill="#8DD3C7"/>
<circle cx="101.2" cy="198" r="0.67" fill="#8DD3C7"/>
<circle cx="115.1" cy="201.1" r="0.69" fill="#B3DE69"/>
<circle cx="65.4" cy="158.6" r="0.7" fill="#35A7C4"/>
<circle cx="70.2" cy="172.8" r="0.7" fill="#35A7C4"/>
<circle cx="64.9" cy="179.3" r="0.7" fill="#35A7C4"/>
<circle cx="100.7" cy="164.4" r="0.7" fill="#35A7C4"/>
<circle cx="122.1" cy="165.7" r="0.7" fill="#35A7C4"/>
<circle cx="135.9" cy="166.8" r="0.7" fill="#35A7C4"/>
<circle cx="71" cy="210.6" r="0.7" fill="#6CC24A"/>
<circle cx="116" cy="195.4" r="0.7" fill="#B3DE69"/>
<circle cx="132" cy="182.1" r="0.71" fill="#80B1D3"/>
<circle cx="104" cy="187.1" r="0.71" fill="#8DD3C7"/>
<circle cx="132.3" cy="204.3" r="0.74" fill="#80B1D3"/>
<circle cx="111.4" cy="190.6" r="0.75" fill="#4DAF4A"/>
<circle cx="105.8" cy="193.8" r="0.76" fill="#8DD3C7"/>
<circle cx="136.1" cy="203.3" r="0.78" fill="#80B1D3"/>
<circle cx="100.6" cy="206.4" r="0.79" fill="#B3DE69"/>
<circle cx="47.8" cy="185.9" r="0.8" fill="#E0609A"/>
<circle cx="185" cy="252" r="0.8" fill="#9C96DC"/>
<circle cx="195.8" cy="251.2" r="0.8" fill="#9C96DC"/>
<circle cx="203.8" cy="252.5" r="0.8" fill="#9C96DC"/>
<circle cx="208" cy="258" r="0.8" fill="#9C96DC"/>
<circle cx="207.5" cy="266.2" r="0.8" fill="#fff" stroke="#9C96DC" stroke-width="0.45"/>
<circle cx="200" cy="270" r="0.8" fill="#9C96DC"/>
<circle cx="193" cy="270.5" r="0.8" fill="#fff" stroke="#9C96DC" stroke-width="0.45"/>
<circle cx="188" cy="263.8" r="0.8" fill="#9C96DC"/>
<circle cx="188.8" cy="257.5" r="0.8" fill="#9C96DC"/>
<circle cx="85.5" cy="157.5" r="0.8" fill="#35A7C4"/>
<circle cx="84" cy="172" r="0.8" fill="#35A7C4"/>
<circle cx="140" cy="185.4" r="0.8" fill="#35A7C4"/>
<circle cx="98.8" cy="211.2" r="0.8" fill="#8DD3C7"/>
<circle cx="117.1" cy="200.4" r="0.81" fill="#FDB462"/>
<circle cx="119.5" cy="194.1" r="0.81" fill="#8DD3C7"/>
<circle cx="98.3" cy="198.8" r="0.84" fill="#FDB462"/>
<circle cx="35.6" cy="138.8" r="0.85" fill="#35A7C4"/>
<circle cx="43.5" cy="139.1" r="0.85" fill="#35A7C4"/>
<circle cx="30.7" cy="143.7" r="0.85" fill="#35A7C4"/>
<circle cx="50.8" cy="144" r="0.85" fill="#35A7C4"/>
<circle cx="50.4" cy="149" r="0.85" fill="#35A7C4"/>
<circle cx="31" cy="151.3" r="0.85" fill="#35A7C4"/>
<circle cx="38.6" cy="155.9" r="0.85" fill="#35A7C4"/>
<circle cx="49.8" cy="157.4" r="0.85" fill="#35A7C4"/>
<circle cx="78.9" cy="159.5" r="0.9" fill="#35A7C4"/>
<circle cx="103.8" cy="156.8" r="0.9" fill="#35A7C4"/>
<circle cx="80" cy="197" r="0.9" fill="#35A7C4"/>
<circle cx="84" cy="196.4" r="0.9" fill="#35A7C4"/>
<circle cx="136" cy="218" r="0.9" fill="#FF7F00"/>
<circle cx="57.3" cy="201.4" r="1" fill="#6CC24A"/>
<circle cx="121.7" cy="208.4" r="1" fill="#FF7F00"/>
<circle cx="134" cy="213" r="1" fill="#FF7F00"/>
<circle cx="143.8" cy="217.9" r="1" fill="#377EB8"/>
<circle cx="133" cy="209" r="1" fill="#377EB8"/>
<circle cx="143.3" cy="221.5" r="1" fill="#377EB8"/>
<circle cx="74.8" cy="188.8" r="1.1" fill="#fff" stroke="#35A7C4" stroke-width="0.45"/>
<circle cx="140" cy="214" r="1.1" fill="#377EB8"/>
<circle cx="150.5" cy="222.7" r="1.1" fill="#377EB8"/>
<circle cx="104.9" cy="221.2" r="1.1" fill="#B3DE69"/>
<circle cx="33.3" cy="161.2" r="1.2" fill="#35A7C4"/>
<circle cx="110.2" cy="211" r="1.2" fill="#4DAF4A"/>
<circle cx="109.5" cy="214.5" r="1.2" fill="#4DAF4A"/>
<circle cx="105.7" cy="209" r="1.2" fill="#4DAF4A"/>
<circle cx="115.6" cy="222.1" r="1.2" fill="#4DAF4A"/>
<circle cx="112.1" cy="227" r="1.2" fill="#4DAF4A"/>
<circle cx="119.4" cy="199.9" r="1.2" fill="#4DAF4A"/>
<circle cx="101" cy="214" r="1.2" fill="#4DAF4A"/>
<circle cx="110.2" cy="196.2" r="1.2" fill="#984EA3"/>
<circle cx="124" cy="194.2" r="1.2" fill="#984EA3"/>
<circle cx="103" cy="181.5" r="1.2" fill="#984EA3"/>
<circle cx="116" cy="181" r="1.2" fill="#984EA3"/>
<circle cx="118" cy="187" r="1.2" fill="#984EA3"/>
<circle cx="100" cy="192" r="1.2" fill="#984EA3"/>
<circle cx="107" cy="201" r="1.2" fill="#984EA3"/>
<circle cx="113" cy="176.5" r="1.2" fill="#984EA3"/>
<circle cx="121" cy="179" r="1.2" fill="#984EA3"/>
<circle cx="87.5" cy="227.8" r="1.3" fill="#6CC24A"/>
<circle cx="116" cy="211" r="1.3" fill="#FF7F00"/>
<circle cx="129.3" cy="217.1" r="1.3" fill="#377EB8"/>
<circle cx="104.9" cy="215.6" r="1.4" fill="#FF7F00"/>
<circle cx="129.8" cy="207.7" r="1.4" fill="#FF7F00"/>
<circle cx="127.8" cy="196.5" r="1.4" fill="#377EB8"/>
<circle cx="117.9" cy="204.9" r="1.5" fill="#FF7F00"/>
<circle cx="124" cy="198.4" r="1.5" fill="#377EB8"/>
<circle cx="139.2" cy="206" r="1.5" fill="#377EB8"/>
<circle cx="76" cy="150" r="1.6" fill="#35A7C4"/>
<circle cx="127.8" cy="214.8" r="1.6" fill="#FF7F00"/>
<circle cx="125.2" cy="222.4" r="1.6" fill="#FF7F00"/>
<circle cx="137.4" cy="201.9" r="1.6" fill="#377EB8"/>
<circle cx="114.8" cy="215.1" r="1.6" fill="#377EB8"/>
<circle cx="99.6" cy="220.2" r="1.7" fill="#E41A1C"/>
<circle cx="108" cy="221.7" r="1.7" fill="#E41A1C"/>
<circle cx="95.5" cy="233.1" r="1.7" fill="#E41A1C"/>
<circle cx="108" cy="233.4" r="1.7" fill="#E41A1C"/>
<circle cx="112.5" cy="229.3" r="1.7" fill="#E41A1C"/>
<circle cx="113" cy="234.9" r="1.7" fill="#E41A1C"/>
<circle cx="117.9" cy="235.4" r="1.7" fill="#E41A1C"/>
<circle cx="113.6" cy="238.1" r="1.7" fill="#E41A1C"/>
<circle cx="120.2" cy="222.9" r="1.7" fill="#E41A1C"/>
<circle cx="121.7" cy="226.6" r="1.7" fill="#E41A1C"/>
<circle cx="127" cy="211.5" r="1.7" fill="#FF7F00"/>
</g>
<g id="netC" stroke-linecap="round" filter="url(#bl)">
<g stroke="#5A2BA2" fill="none">
<path d="M30.1 282.2L51.8 282.5M43.9 277.4L50.7 296.5M38.6 295L30.1 282.2M32.9 300.5L35.4 277.1M33.6 310.2L32.9 326.8M40.3 312.1L25.4 325.1M39.5 322.7L21.3 320.1M200.6 401L216.8 395.8M216.8 395.8L212.7 414.1M212.7 414.1L200.6 401" stroke-width="0.42" stroke-opacity="0.2"/>
<path d="M35.4 277.1L51.3 287.8M18.1 311.7L40.3 312.1M32.9 326.8L18.1 311.7M25.4 325.1L25.4 309M196.6 395.3L221.4 401.6M221.4 401.6L205.2 414.6M205.2 414.6L196.6 395.3" stroke-width="0.42" stroke-opacity="0.2"/>
<path d="M51.8 282.5L38.6 295M51.3 287.8L32.9 300.5M50.7 296.5L30.4 290.2M30.4 290.2L43.9 277.4M25.4 309L39.5 322.7M21.3 320.1L33.6 310.2M208.2 394.5L220.8 410.2M220.8 410.2L199.8 407.6M199.8 407.6L208.2 394.5" stroke-width="0.42" stroke-opacity="0.2"/>
<path d="M30.1 282.2L35.4 277.1M43.9 277.4L51.3 287.8M51.3 287.8L50.7 296.5M38.6 295L32.9 300.5M38.6 295L30.4 290.2M30.4 290.2L35.4 277.1M25.4 309L40.3 312.1M33.6 310.2L40.3 312.1M32.9 326.8L25.4 325.1M21.3 320.1L18.1 311.7M196.6 395.3L208.2 394.5M208.2 394.5L221.4 401.6M221.4 401.6L220.8 410.2M220.8 410.2L205.2 414.6M205.2 414.6L199.8 407.6M199.8 407.6L196.6 395.3M51.8 282.5Q64.4 289.8 78.9 288.8M50.7 296.5Q52.5 303.2 57.1 308.3M40.3 312.1Q54.4 313 67 319.4M39.5 322.7Q47.8 333.9 58.8 342.5M32.9 326.8Q54.6 337.2 73.5 352.1M48.5 326.3Q57.1 321 67 319.4M154.5 341Q150.5 343.8 147.1 347.3M156.6 351.4Q152.1 353.1 148 355.6M154.5 341Q151.8 333.1 148 325.8M159.3 364.7Q150.7 350.2 135.1 344.1M159.3 364.7Q144.7 357.3 135.1 344.1" stroke-width="0.42" stroke-opacity="0.4"/>
<path d="M30.1 282.2L43.9 277.4M35.4 277.1L51.8 282.5M50.7 296.5L32.9 300.5M18.1 311.7L25.4 309M18.1 311.7L33.6 310.2M33.6 310.2L39.5 322.7M40.3 312.1L32.9 326.8M39.5 322.7L25.4 325.1M25.4 325.1L21.3 320.1M25.4 325.1L18.1 311.7M21.3 320.1L25.4 309M48.5 326.3Q40.7 326.5 32.9 326.8M48.5 326.3Q44.7 319 40.3 312.1M200.6 401L196.6 395.3M196.6 395.3L216.8 395.8M216.8 395.8L221.4 401.6M221.4 401.6L212.7 414.1M212.7 414.1L205.2 414.6M205.2 414.6L200.6 401M51.3 287.8Q65.2 285.5 78.9 288.8M43.9 277.4Q59.1 290.1 78.9 288.8M130.7 329.5Q139.5 328.3 148 325.8M156.6 351.4Q151.8 349.6 147.1 347.3M156.6 351.4Q155.1 356 152.1 359.7" stroke-width="0.42" stroke-opacity="0.4"/>
<path d="M35.4 277.1L43.9 277.4M43.9 277.4L51.8 282.5M51.8 282.5L51.3 287.8M51.8 282.5L50.7 296.5M51.3 287.8L38.6 295M50.7 296.5L38.6 295M32.9 300.5L30.4 290.2M32.9 300.5L30.1 282.2M30.4 290.2L30.1 282.2M25.4 309L33.6 310.2M40.3 312.1L39.5 322.7M39.5 322.7L32.9 326.8M32.9 326.8L21.3 320.1M32.9 300.5Q29.2 304.8 25.4 309M32.9 300.5Q33.1 305.4 33.6 310.2M48.5 326.3Q44 324.6 39.5 322.7M200.6 401L208.2 394.5M208.2 394.5L216.8 395.8M216.8 395.8L220.8 410.2M220.8 410.2L212.7 414.1M212.7 414.1L199.8 407.6M199.8 407.6L200.6 401M40.3 312.1Q48.6 309.8 57.1 308.3M48.5 326.3Q53.1 334.7 58.8 342.5M48.5 326.3Q63.2 326.6 77.6 329.3M50.7 296.5Q58.9 299 67.5 297.8M154.5 341Q149.7 341.5 145.2 343" stroke-width="0.42" stroke-opacity="0.4"/>
<path d="M78.9 288.8Q73.9 294.2 67.5 297.8M78.9 288.8Q93.4 294.5 108.9 295.9M89.2 296.6Q99 294.3 108.9 295.9M67.5 297.8Q69.4 305.4 72.7 312.6M82.1 298.7Q83.3 305.9 87.6 311.8M72.7 312.6Q75.7 311.6 78.5 310.2M89.2 296.6Q98.2 298.5 105.6 303.8M143.6 306.3Q146.1 316 148 325.8M108.9 295.9Q125.4 304 143.6 306.3M87.6 311.8Q82 320.2 77.6 329.3M83.3 337.9Q85.4 337.7 87.6 337.2M96.2 315.9Q99.1 313.3 100.5 309.7M94 326.4Q86 328.6 77.6 329.3M84.3 346.2Q82.1 350.7 78.9 354.6M78.9 354.6Q76 353.9 73.5 352.1M128.7 305.2Q131.5 311.2 136.1 315.9M148 325.8Q150 333.9 154.5 341M154.5 341Q156.8 346 156.6 351.4M77.6 329.3Q68.3 336 58.8 342.5M117.8 328.5Q126.9 318.6 128.7 305.2M117.8 317Q109.1 313.4 100.5 309.7M117.8 317Q111.9 307.1 108.9 295.9M109.2 341Q97.8 342.1 87.6 337.2M104.8 348.3Q89.4 352.2 73.5 352.1" stroke-width="0.42" stroke-opacity="0.6"/>
<path d="M78.9 288.8Q80.5 293.8 82.1 298.7M82.1 298.7Q85.5 297.3 89.2 296.6M89.2 296.6Q86.7 304 87.6 311.8M108.9 295.9Q107.2 299.8 105.6 303.8M128.7 305.2Q136.1 305.6 143.6 306.3M67 319.4Q72.3 324.4 77.6 329.3M100.5 309.7Q103.8 307.4 105.6 303.8M73.5 352.1Q66.8 346.3 58.8 342.5M58.8 342.5Q70.9 339.6 83.3 337.9M136.1 315.9Q140.9 312 143.6 306.3M67 319.4Q60.6 330.1 58.8 342.5M117.8 317Q121.3 309.3 128.7 305.2M113.5 355.6Q131 353.4 145.2 343M130.7 329.5Q140.8 336.7 147.1 347.3M148 325.8Q140.5 334 130.7 339.3M159.3 364.7L196.6 395.3M159.3 364.7Q153.2 360.8 148 355.6M159.3 364.7Q152 360.8 143.7 359.8" stroke-width="0.42" stroke-opacity="0.6"/>
<path d="M78.9 288.8Q83.8 293 89.2 296.6M67.5 297.8Q74.9 296.8 82.1 298.7M67.5 297.8Q61.5 302.3 57.1 308.3M78.5 310.2Q83 311.2 87.6 311.8M105.6 303.8Q97.2 309.1 87.6 311.8M108.9 295.9Q119.4 299.3 128.7 305.2M105.6 303.8Q117.3 301.9 128.7 305.2M87.6 311.8Q87.8 324.5 87.6 337.2M83.3 337.9Q84.3 342 84.3 346.2M136.1 315.9Q142.3 320.5 148 325.8M100.5 309.7Q114.3 305.5 128.7 305.2M130.7 329.5Q126.2 317.7 128.7 305.2M99.4 332.7Q80.8 331.8 67 319.4M109.2 341Q93.1 352.3 73.5 352.1M113.5 355.6Q102.2 362.5 91.4 370M117.8 328.5Q131.2 348.2 152.1 359.7M159.3 364.7Q156.3 361.4 152.1 359.7M159.3 364.7Q155.3 364.7 151.6 363.5M159.3 364.7Q152.8 356.3 147.1 347.3" stroke-width="0.42" stroke-opacity="0.6"/>
<path d="M32.9 300.5Q36.3 298.3 38.6 295M117.8 328.5Q105.1 329.4 92.4 329.9M117.8 328.5Q121.4 334.9 125.8 340.9M113.5 355.6Q124.8 358.5 136.5 358.9M104.8 348.3Q111.5 337.5 121.3 329.3M94 321.2Q109.1 334.4 128.2 340.8M94 321.2Q113 328.9 130.7 339.3M117.8 328.5Q100.8 323.5 87.6 311.8M117.8 328.5Q101.5 322.2 87.6 311.8M117.8 317Q113.2 309 105.6 303.8M117.8 317Q110.3 311.7 105.6 303.8M117.8 317Q109.8 311.9 100.5 309.7M117.8 317Q111.1 307.4 108.9 295.9M130.7 329.5Q137.5 318.1 143.6 306.3M109.2 341Q97.9 342 87.6 337.2M104.8 348.3Q94.2 350.8 84.3 346.2M127.5 319.1Q138 315.9 143.6 306.3M130.7 339.3Q131.4 343.2 133.1 346.6" stroke-width="0.64" stroke-opacity="0.6"/>
<path d="M109.2 341Q119.2 341.9 128.2 346.5M104.8 348.3Q110.9 351.1 115.1 356.1M117.8 328.5Q107.6 321.1 96.2 315.9M117.8 328.5Q105.2 325.3 96.2 315.9M117.8 317Q123.8 311.6 128.7 305.2M117.8 317Q127.1 318.4 136.1 315.9M99.4 332.7Q88.3 332.3 77.6 329.3M99.4 332.7Q78.2 333.8 58.8 342.5M109.2 341Q91.7 339.7 77.6 329.3M104.8 348.3Q91.6 350.4 78.9 354.6M104.8 348.3Q95.1 357.3 91.4 370M115.8 337Q128.8 320.8 143.6 306.3M113.5 355.6Q130.7 353.1 148 355.6M134.8 356.5Q136.1 352.2 137.1 347.8M141.5 354.6Q140 350.7 137.1 347.8M105.5 347.7Q104.9 350.4 103.6 352.7M134.8 356.5Q134.4 354.7 134 353M123.1 331.9Q119.8 331.9 116.7 332.3M111.1 334.5Q107.8 334.3 104.8 332.7M139.7 345.5Q138.9 341.9 136.8 338.9M119.5 380.8Q124.6 375.3 128.3 368.8" stroke-width="0.64" stroke-opacity="0.6"/>
<path d="M117.8 328.5Q115.3 314.4 105.6 303.8M117.8 317Q129.1 308 143.6 306.3M130.7 329.5Q138.8 325.7 147.8 325.7M99.4 332.7Q91.3 335 83.3 337.9M99.4 332.7Q98.4 324.2 96.2 315.9M109.2 341Q97.2 345.6 84.3 346.2M113.5 355.6Q96.3 350.4 78.9 354.6M118.9 364Q104.3 363.3 91.4 370M124.3 327.4Q135.9 318.7 143.6 306.3M135.1 344.1Q144.2 353 151.6 363.5M111 350.4Q107.1 351 103.6 352.7M118.3 356.7Q117.4 354.4 115.8 352.5M104.4 362.1Q107.2 363 110.1 363.1M115.1 356.1Q112.7 353.5 111 350.4M137.1 347.8Q138.2 346.5 139.7 345.5M111 350.4Q108.1 349.3 105.5 347.7M140.4 350.4Q137.3 351.9 134 353M152.1 359.7Q155.5 362.5 159.3 364.7M125.9 334.8Q123.8 335.1 122.1 336.2M128.3 349.8Q127 345.3 125.8 340.9M110.1 357.3Q110.7 353.9 111 350.4M122.1 336.2Q122.7 338.8 123.3 341.4M122.1 321.2Q115.1 321.3 108.1 321.7M148 325.8Q141.9 332.1 134.8 337.4" stroke-width="0.64" stroke-opacity="0.6"/>
<path d="M117.8 328.5Q111 329.7 104.8 332.7M109.2 341Q112.9 346.5 115.8 352.5M117.8 317Q119 332 124.2 346.1M104.8 348.3Q113.1 339.1 123.1 331.9M135.1 344.1Q129.7 340.2 125.9 334.8M99.4 332.7Q90.9 333.9 83.3 337.9M99.4 332.7Q97.2 324.4 96.2 315.9M109.2 341Q96.4 338.1 83.3 337.9M109.2 341Q96.1 340.3 83.3 337.9M127.5 319.1Q126.6 312 128.7 305.2M113.5 375.9Q116.2 376.5 118.9 377.4M147.1 347.3Q143.9 350.6 141.5 354.6M118.9 316.5Q121.4 322.6 121.3 329.3M112 333Q114.3 334.7 115.8 337M121.7 364.1Q117.6 363.7 113.5 363.7M136.8 338.9Q132.4 339.5 128.2 340.8" stroke-width="0.85" stroke-opacity="0.6"/>
<path d="M109.2 341Q116.2 342.6 123.3 341.4M124.3 347.3Q132.3 349 140.4 350.4M113.5 355.6Q118.4 349.5 121.1 342.2M99.4 332.7Q114.7 338 130.7 339.3M99.4 332.7Q100.3 342.9 103.6 352.7M118.9 364Q126.8 360.1 134.8 356.5M94 321.2Q99.3 334.6 105.5 347.7M94 321.2Q110.9 322.1 127.5 319.1M115.1 356.1Q111.1 357 107.7 359.2M126.6 364.9Q122.6 368.4 118.3 371.6M115.1 356.1Q111.4 357.7 107.7 359.2M124.2 378Q125.3 373 128.3 368.8M118.9 377.4Q119.5 370.6 121.7 364.1" stroke-width="0.85" stroke-opacity="0.6"/>
<path d="M130.7 329.5Q133.9 339.3 137 349M130.7 329.5Q117.5 328.3 104.8 332.7M118.9 364Q121.5 355.1 124.2 346.1M104.8 348.3Q109.7 359.8 117.9 369.2M135.1 344.1Q141.9 349.4 148 355.6M99.4 332.7Q90 324.2 87.6 311.8M109.2 341Q103.7 331.5 94 326.4M100 375.6Q104.3 368.8 110.1 363.1M109.2 327.6Q113 332 115.8 337M118.9 316.5Q120.8 318.6 122.1 321.2M103.1 358.6Q104.5 357.1 105.9 355.6M103.1 358.6Q104.8 357.4 105.9 355.6M104.8 332.7Q108.2 333 111.1 334.5M105.9 355.6Q108.3 352.9 111 350.4M139.4 322.3Q130.5 326.2 121.3 329.3" stroke-width="0.85" stroke-opacity="0.6"/>
<path d="M117.8 328.5Q112.1 334 107.5 340.5M137.1 347.8Q140.7 346.6 143.8 344.4" stroke-width="1.06" stroke-opacity="0.6"/>
<path d="M137.1 347.8Q137.1 348.4 137 349" stroke-width="1.06" stroke-opacity="0.6"/>
<path d="M134.8 356.5Q136.6 352.3 137.1 347.8M104.8 332.7Q108 333.7 111.1 334.5" stroke-width="1.06" stroke-opacity="0.6"/>
<path d="M117.8 317Q130.4 311.1 143.6 306.3M108.1 321.7Q115.6 309.9 128.7 305.2" stroke-width="0.42" stroke-opacity="0.8"/>
<path d="M117.8 317Q127 316.7 136.1 315.9M99.4 332.7Q88.3 332.8 77.6 329.3" stroke-width="0.42" stroke-opacity="0.8"/>
<path d="M99.4 332.7Q94.1 336.4 87.6 337.2M104.8 348.3Q94.5 348.5 84.3 346.2M122.1 321.2Q125.2 313.1 128.7 305.2" stroke-width="0.42" stroke-opacity="0.8"/>
<path d="M117.8 328.5Q120.7 334.1 122.1 340.3M113.5 355.6Q114.3 348.7 112.4 342M118.9 364Q123.9 355.5 128.2 346.5M104.8 348.3Q93.1 345.1 83.3 337.9M94 321.2Q97 315.3 100.5 309.7M104.8 332.7Q103.6 336.1 103 339.7M134.8 356.5Q135.6 357.7 136.5 358.9M125.8 340.9Q123.4 341.2 121.1 342.2M107.7 359.2Q111.5 357.8 115.1 356.1M103.6 352.7Q104.5 354.3 105.9 355.6M115.1 356.1Q114.2 359.9 113.5 363.7M112.4 342Q116.8 342.5 121.1 342.2M137 349Q138.8 349.4 140.4 350.4M122.1 336.2Q120.1 333.2 117.1 331.2M137 349Q140.6 347 143.8 344.4M119.5 380.8Q123.3 372.9 126.6 364.9" stroke-width="0.64" stroke-opacity="0.8"/>
<path d="M99.4 332.7Q111 343 118.3 356.7M130.7 329.5Q134.6 342.7 141.5 354.6M117.8 317Q128.9 331.2 139.7 345.5M130.7 329.5Q134.4 323.1 136.1 315.9M109.2 341Q96 339.9 84.3 346.2M94 321.2Q95.2 318.6 96.2 315.9M94 321.2Q95.3 318.6 96.2 315.9M128.3 349.8Q127 345.4 125.8 340.9M127.5 319.1Q122.2 325.1 117.1 331.2M115.1 356.1Q112.6 353.6 111 350.4M143.7 359.8Q146 357.9 148 355.6M92.4 329.9Q99.5 335.8 107.5 340.5M134 353Q135.4 350.4 137.1 347.8M148 355.6Q144.8 350.4 143.8 344.4M121.7 364.1Q120.4 368 118.3 371.6M113.5 363.7Q116.5 360.6 118.3 356.7M137 349Q136.8 353 134.8 356.5M137 349Q135.6 352.7 134.8 356.5M122.1 352.5Q118.2 353.6 115.1 356.1" stroke-width="0.64" stroke-opacity="0.8"/>
<path d="M130.7 329.5Q121.4 333.6 111.1 334.5M117.8 317Q126 330.7 128.2 346.5M135.1 344.1Q140.2 344.3 145.2 343M117.8 328.5Q132.7 319.8 143.6 306.3M99.4 332.7Q97.5 328.8 94 326.4M94 321.2Q90.5 316.7 87.6 311.8M94 321.2Q85 323.6 77.6 329.3M125.9 334.8Q125.3 338.4 123.3 341.4M159.3 364.7Q152 360.7 143.7 359.8M121.7 364.1Q121.5 360.4 120.8 356.8M121.7 364.1Q120.9 360.5 120.8 356.8M124.2 346.1Q123 349.3 122.1 352.5M117.1 331.2Q116.8 331.7 116.7 332.3M143.7 359.8Q139.6 357.2 134.8 356.5M125.9 334.8Q125 338.3 123.3 341.4M122.1 352.5Q120 354.4 118.3 356.7M113.5 375.9Q115.9 373.8 118.3 371.6M107.5 340.5Q107 344.3 105.5 347.7M148 325.8Q149.6 336.6 147.1 347.3" stroke-width="0.64" stroke-opacity="0.8"/>
<path d="M32.9 300.5L40.3 286.9M82.1 298.7Q81.6 304.9 78.5 310.2M72.7 312.6Q70.4 316.5 67 319.4M94 326.4Q90.3 331.5 87.6 337.2M124.3 347.3Q128.7 341.4 134.8 337.4M124.3 347.3Q129.2 354.2 136.5 358.9M113.5 355.6Q118.7 365.9 118.9 377.4M118.9 364Q120 370.7 118.9 377.4M117.8 317Q123.2 326.7 130.7 334.9M104.8 348.3Q113.7 349.6 122.1 352.5M94 321.2Q106.8 336.5 124.2 346.1M124.3 347.3Q117.6 361.1 113.5 375.9M124.3 347.3Q125 362.6 124.2 378M124.3 347.3Q124.1 358.4 128.3 368.8M135.1 344.1Q122.7 351 110.1 357.3M130.7 329.5Q125.2 340.5 122.1 352.5M113.5 355.6Q124.5 349.9 137 349M135.1 344.1Q131.3 346.6 128.3 349.8M130.7 329.5Q135.4 343.8 136.5 358.9M140.4 350.4Q140.6 347.9 139.7 345.5M118.9 377.4Q116.2 376.7 113.5 375.9M128.3 349.8Q125.1 350.9 122.1 352.5M126.6 364.9Q129.8 359.8 134.8 356.5M113.5 363.7Q115.6 360 118.3 356.7M140.4 350.4Q136.5 349.1 133.1 346.6M92.4 329.9Q94.8 334.9 98.9 338.7M125.8 340.9Q124.5 340.9 123.3 341.4M139.7 345.5Q140.1 348 140.4 350.4M151.6 363.5Q142.5 361.7 134.8 356.5M125.9 334.8Q124 337.6 122.1 340.3M103.6 352.7Q102.8 355.6 103.1 358.6M124.3 327.4Q122.9 328.6 121.3 329.3" stroke-width="0.85" stroke-opacity="0.8"/>
<path d="M78.5 310.2Q73.8 316.1 67 319.4M109.2 341Q107.3 352.2 110.1 363.1M124.3 347.3Q126.4 356.6 132 364.4M118.9 364Q111.6 363.5 104.4 362.1M135.1 344.1Q128.6 342.3 122.1 340.3M99.4 332.7Q93.8 335.7 87.6 337.2M104.8 348.3Q94 343.3 83.3 337.9M94 321.2Q98.2 316 100.5 309.7M94 321.2Q88.1 313.2 78.5 310.2M94 321.2Q98.8 311.8 105.6 303.8M118.9 364Q116.2 369.9 113.5 375.9M124.3 347.3Q130.1 355 132 364.4M113.5 355.6Q127.4 353.3 141.5 354.6M130.7 329.5Q136.2 345.1 143.7 359.8M113.5 355.6Q117.1 356.6 120.8 356.8M135.1 344.1Q128.5 351.1 120.8 356.8M130.7 329.5Q136.7 339.4 140.4 350.4M152.1 359.7Q147 354.1 140.4 350.4M152.1 359.7Q147.9 359.3 143.7 359.8M122.1 352.5Q121 347.4 121.1 342.2M127.5 319.1Q129.6 326.9 130.7 334.9M121.7 364.1Q120 366.8 117.9 369.2M118.3 371.6Q122.6 368.4 126.6 364.9M139.4 322.3Q136.6 330.4 136.8 338.9M130.7 334.9Q129.6 337.9 128.2 340.8M134.8 337.4Q130.2 338.8 125.8 340.9M124.2 346.1Q126.3 343.6 128.2 340.8M148 325.8Q145.1 334.1 145.2 343" stroke-width="0.85" stroke-opacity="0.8"/>
<path d="M77.6 329.3Q80.5 333.6 83.3 337.9M87.6 311.8Q92.1 313.4 96.2 315.9M96.2 315.9Q94.3 321 94 326.4M109.2 341Q116.8 347.5 120.8 356.8M113.5 355.6Q122.5 349.4 133.1 346.6M99.4 332.7Q90.8 323.8 87.6 311.8M99.4 332.7Q97.9 328.6 94 326.4M109.2 341Q94.6 331.9 77.6 329.3M109.2 341Q99.6 335.8 94 326.4M94 321.2Q91 316.3 87.6 311.8M94 321.2Q94.7 323.8 94 326.4M94 321.2Q86.4 326.3 77.6 329.3M99.4 332.7Q95.9 330.3 94 326.4M118.9 364Q119.1 372.4 119.5 380.8M113.5 355.6Q116.6 368.2 119.5 380.8M117.8 328.5Q119.2 338 124.2 346.1M135.1 344.1Q129.8 346.1 124.2 346.1M130.7 329.5Q123.2 345.5 110.1 357.3M117.8 328.5Q127.6 339.6 134 353M117.8 328.5Q125 346.4 132 364.4M135.1 344.1Q138.2 352.6 143.7 359.8M117.8 328.5Q127 341.6 140.4 350.4M118.9 316.5Q120.2 319 122.1 321.2M124.2 378Q127.4 370.8 132 364.4M104.4 362.1Q105.6 359 105.9 355.6M130.7 339.3Q128.4 337 125.9 334.8M124.2 378Q120.7 375.2 118.3 371.6M121.3 329.3Q121.5 325.2 122.1 321.2M151.6 363.5Q149.4 355.3 147.1 347.3M124.2 378Q120.6 375.3 118.3 371.6M103.6 352.7Q109.6 353.7 115.1 356.1M123.3 341.4Q125.7 341.1 128.2 340.8M134 353Q134.6 354.7 134.8 356.5M128.3 368.8Q125.2 366 121.7 364.1M117.1 331.2Q120.6 329.2 124.3 327.4" stroke-width="0.85" stroke-opacity="0.8"/>
<path d="M32.9 300.5Q29.5 308.5 29.5 317.2M124.3 347.3Q121.3 352 118.3 356.7M130.7 329.5Q132.6 339.2 137.1 347.8M118.9 364Q120.1 360.4 120.8 356.8M135.1 344.1Q136.1 341.6 136.8 338.9M135.1 344.1Q131.7 345.7 128.2 346.5M94 321.2Q88.7 328.4 87.6 337.2M94 321.2Q91.9 329.6 87.6 337.2M94 321.2Q85.5 316.8 78.5 310.2M94 321.2Q98.4 311.6 105.6 303.8M99.4 332.7Q93.1 334 87.6 337.2M109.2 341Q102.1 357.6 100 375.6M109.2 341Q115.8 354.5 126.6 364.9M113.5 355.6Q117.7 353.8 122.1 352.5M124.3 347.3Q129.5 349.5 134 353M117.8 328.5Q128.4 341.2 134.8 356.5M117.8 328.5Q130.5 340.7 141.5 354.6M151.6 363.5Q147.8 361.3 143.7 359.8M147.1 347.3Q143.8 348.8 140.4 350.4M100 375.6Q105.4 368.1 107.7 359.2M128.3 349.8Q125.9 348.3 124.2 346.1M124.2 346.1Q125.9 343.3 128.2 340.8M130.7 334.9Q128.3 334.7 125.9 334.8M121.1 342.2Q121.5 341.2 122.1 340.3" stroke-width="1.06" stroke-opacity="0.8"/>
<path d="M109.2 341Q106.1 340.2 103 339.7M99.4 332.7Q108.1 334.1 116.7 332.3M99.4 332.7Q111.5 328.2 124.3 327.4M130.7 329.5Q134.1 334 136.8 338.9M135.1 344.1Q129.6 354 126.6 364.9M94 321.2Q91.6 331.4 83.3 337.9M94 321.2Q88.3 329.3 83.3 337.9M99.4 332.7Q97.3 324.4 96.2 315.9M99.4 332.7Q91.8 336.6 83.3 337.9M124.3 347.3Q114.2 354.5 104.4 362.1M109.2 341Q112.3 352.2 113.5 363.7M135.1 344.1Q135.6 346.7 137 349M124.3 347.3Q129.7 351.7 134.8 356.5M113.5 355.6Q121.1 346.4 130.7 339.3M130.7 329.5Q133.4 333.1 134.8 337.4M124.3 347.3Q129.3 342.1 134.8 337.4M124.3 347.3Q131.1 352.2 136.5 358.9M124.2 346.1Q128.6 347 133.1 346.6M115.8 337Q113.6 335.6 111.1 334.5M124.3 327.4Q120.3 329.6 116.7 332.3M119.5 380.8Q118.7 376.2 118.3 371.6" stroke-width="1.06" stroke-opacity="0.8"/>
<path d="M124.3 347.3Q127.5 343.3 130.7 339.3M130.7 329.5Q129.2 324.3 127.5 319.1M117.8 317Q115.9 329.7 112.4 342M104.8 348.3Q105.2 348 105.5 347.7M104.8 348.3Q104.1 350.5 103.6 352.7M94 321.2Q94.4 323.8 94 326.4M99.4 332.7Q90.6 323.9 87.6 311.8M124.3 347.3Q125.3 356.1 126.6 364.9M130.7 329.5Q130.6 339.8 128.3 349.8M124.3 347.3Q126.8 342.8 130.7 339.3M132 364.4Q129.7 366.2 128.3 368.8M107.5 340.5Q103 340.6 98.9 338.7M136.8 338.9Q141.4 340.2 145.2 343M128.3 368.8Q130.5 366.9 132 364.4" stroke-width="1.06" stroke-opacity="0.8"/>
<path d="M117.8 328.5Q119.5 328.9 121.3 329.3M117.8 328.5Q121 328.1 124.3 327.4M117.8 328.5Q113.5 327.6 109.2 327.6M113.5 355.6Q109.7 355.7 105.9 355.6M99.4 332.7Q95.8 331.6 92.4 329.9M99.4 332.7Q107.6 334.9 115.8 337M130.7 329.5Q131.2 334.4 130.7 339.3M118.9 364Q116.2 363.7 113.5 363.7M118.9 364Q118.4 360.4 118.3 356.7M118.9 364Q116.7 358.4 115.8 352.5M117.8 317Q121.1 324.2 123.1 331.9M104.8 348.3Q101.9 343.5 98.9 338.7M135.1 344.1Q138 347 140.4 350.4M135.1 344.1Q134.5 348.6 134 353M117.8 328.5Q113.4 334.7 109.2 341M117.8 328.5Q108.8 331.4 99.4 332.7M117.8 328.5Q117.4 322.7 117.8 317M117.8 328.5Q105.9 325 94 321.2M109.2 341Q111.4 348.3 113.5 355.6M109.2 341Q112.9 352.9 118.9 364M109.2 341Q122.1 342.7 135.1 344.1M124.3 347.3Q126.7 338.1 130.7 329.5M124.3 347.3Q114.6 348.5 104.8 348.3M113.5 355.6Q106.9 343.9 99.4 332.7" stroke-width="1.27" stroke-opacity="0.8"/>
<path d="M117.8 328.5Q119.8 324.7 122.1 321.2M109.2 341Q107.6 340.1 106.1 338.9M109.2 341Q110 337.7 111.1 334.5M113.5 355.6Q117.1 356.2 120.8 356.8M99.4 332.7Q105.7 332.8 112 333M130.7 329.5Q127.4 328.7 124.3 327.4M117.8 317Q122.5 318.6 127.5 319.1M94 321.2Q102.6 327.7 112 333M117.8 328.5Q126 336.8 135.1 344.1M109.2 341Q117 343.4 124.3 347.3M109.2 341Q120.5 336.2 130.7 329.5M109.2 341Q107.1 344.7 104.8 348.3M113.5 355.6Q116 359.9 118.9 364M113.5 355.6Q123.8 349.1 135.1 344.1M99.4 332.7Q101.6 340.7 104.8 348.3M130.7 329.5Q124.2 323.3 117.8 317M118.9 364Q127.5 354.5 135.1 344.1M118.9 364Q111.8 361.8 104.4 362.1M124.3 347.3Q117.3 354.4 113.5 363.7M104.8 348.3Q108.9 356.1 113.5 363.7M104.8 348.3Q109 366 119.5 380.8M118.9 364Q123.2 367.1 128.3 368.8" stroke-width="1.27" stroke-opacity="0.8"/>
<path d="M124.3 347.3Q123 352.2 120.8 356.8M113.5 355.6Q114.3 355.8 115.1 356.1M130.7 329.5Q126.5 325.3 122.1 321.2M117.8 317Q120.2 323 121.3 329.3M117.8 317Q113.2 322 109.2 327.6M104.8 348.3Q108.9 345.6 112.4 342M104.8 348.3Q104.1 353.5 103.1 358.6M94 321.2Q106.4 318.6 118.9 316.5M117.8 328.5Q121 337.9 124.3 347.3M117.8 328.5Q124.3 328.6 130.7 329.5M117.8 328.5Q111 338.2 104.8 348.3M109.2 341Q104.3 336.8 99.4 332.7M109.2 341Q113 328.8 117.8 317M109.2 341Q102.6 330.3 94 321.2M124.3 347.3Q118.7 351.3 113.5 355.6M124.3 347.3Q122.3 355.9 118.9 364M124.3 347.3Q129.7 345.9 135.1 344.1M113.5 355.6Q109.4 351.7 104.8 348.3M99.4 332.7Q108.5 324.7 117.8 317M99.4 332.7Q97 326.8 94 321.2M130.7 329.5Q133.2 336.7 135.1 344.1M118.9 364Q111.2 356.7 104.8 348.3M117.8 317Q105.8 318.2 94 321.2M109.2 341Q115.9 355.7 118.3 371.6M113.5 355.6Q116.7 366.4 118.9 377.4" stroke-width="1.27" stroke-opacity="0.8"/>
<path d="M117.8 328.5Q117.3 329.8 117.1 331.2M109.2 341Q107 336.9 104.8 332.7M99.4 332.7Q103 335.5 106.1 338.9M104.8 348.3Q110.2 350.7 115.8 352.5M94 321.2Q101.9 328.7 111.1 334.5M113.5 355.6Q109 358.9 104.4 362.1M124.3 347.3Q121.1 359.4 118.3 371.6" stroke-width="1.48" stroke-opacity="0.8"/>
<path d="M109.2 341Q112.6 339.3 115.8 337M113.5 355.6Q114.5 354 115.8 352.5M113.5 355.6Q110.6 357.4 107.7 359.2M113.5 355.6Q113.8 359.6 113.5 363.7M130.7 329.5Q129.8 335.2 128.2 340.8M118.9 364Q113.4 361.4 107.7 359.2M135.1 344.1Q134 345.3 133.1 346.6M94 321.2Q92.8 325.4 92.4 329.9" stroke-width="1.48" stroke-opacity="0.8"/>
<path d="M130.7 329.5Q126.6 333.2 122.1 336.2M118.9 364Q118.2 366.6 117.9 369.2M104.8 348.3Q108 349.1 111 350.4" stroke-width="1.48" stroke-opacity="0.8"/>
<path d="M117.8 328.5Q120.5 330 123.1 331.9M117.8 328.5Q117.3 332.9 115.8 337M109.2 341Q111 337.1 112 333M113.5 355.6Q108.4 357.3 103.1 358.6M99.4 332.7Q102.1 332.7 104.8 332.7M99.4 332.7Q103.9 336.2 107.5 340.5M99.4 332.7Q105.2 334 111.1 334.5M130.7 329.5Q126 329.7 121.3 329.3" stroke-width="1.7" stroke-opacity="0.8"/>
<path d="M109.2 341Q113.1 336.8 116.7 332.3M130.7 329.5Q133 333.3 134.8 337.4M117.8 317Q118.3 316.7 118.9 316.5M117.8 317Q117.5 324.6 116.7 332.3M94 321.2Q101.7 324.2 109.2 327.6" stroke-width="1.7" stroke-opacity="0.8"/>
<path d="M124.3 347.3Q126.1 348.8 128.3 349.8M117.8 317Q117.9 324.1 117.1 331.2M104.8 348.3Q107.6 352.7 110.1 357.3M135.1 344.1Q137.4 344.8 139.7 345.5M94 321.2Q105.2 327 117.1 331.2" stroke-width="1.7" stroke-opacity="0.8"/>
<path d="M29.5 317.2L18.1 311.7M29.5 317.2L21.3 320.1M29.5 317.2L39.5 322.7M208.7 404.9L208.2 394.5M208.7 404.9L220.8 410.2M208.7 404.9L199.8 407.6M124.3 347.3Q126.2 347 128.2 346.5M124.3 347.3Q123.5 343.7 122.1 340.3M99.4 332.7Q101.2 336.2 103 339.7M130.7 329.5Q126.8 330.3 123.1 331.9M118.9 364Q114.5 363.6 110.1 363.1M135.1 344.1Q132.6 342 130.7 339.3M135.1 344.1Q131.5 346.8 128.3 349.8M94 321.2Q98.8 330.3 103 339.7M94 321.2Q104.9 327.6 116.7 332.3M118.9 364Q109.3 369.6 100 375.6M113.5 355.6Q105.8 365 100 375.6M104.8 348.3Q117.2 361.4 124.2 378" stroke-width="1.06" stroke-opacity="1"/>
<path d="M29.5 317.2L25.4 309M29.5 317.2L25.4 325.1M29.5 317.2L33.6 310.2M208.7 404.9L216.8 395.8M208.7 404.9L212.7 414.1M208.7 404.9L200.6 401M124.3 347.3Q120.2 350.1 115.8 352.5M104.8 348.3Q113.6 358.8 118.3 371.6" stroke-width="1.06" stroke-opacity="1"/>
<path d="M29.5 317.2L40.3 312.1M29.5 317.2L32.9 326.8M208.7 404.9L196.6 395.3M208.7 404.9L221.4 401.6M208.7 404.9L205.2 414.6M118.9 364Q118.2 367.8 118.3 371.6M104.8 348.3Q106.3 344.4 107.5 340.5" stroke-width="1.06" stroke-opacity="1"/>
<path d="M40.3 286.9L35.4 277.1M40.3 286.9L51.8 282.5M40.3 286.9L38.6 295M109.2 341Q108.4 340.7 107.5 340.5M124.3 347.3Q124.2 346.7 124.2 346.1M113.5 355.6Q112 353.1 111 350.4M99.4 332.7Q103.1 326.7 108.1 321.7M99.4 332.7Q102.6 340.1 105.5 347.7M130.7 329.5Q130.8 332.2 130.7 334.9M117.8 317Q122.1 325.8 125.9 334.8M104.8 348.3Q105.5 351.9 105.9 355.6M94 321.2Q101 322.2 108.1 321.7M109.2 341Q112.3 359.7 118.9 377.4M118.9 364Q120.7 371.3 124.2 378" stroke-width="1.27" stroke-opacity="1"/>
<path d="M40.3 286.9L43.9 277.4M40.3 286.9L51.3 287.8M40.3 286.9L50.7 296.5M109.2 341Q115.1 342 121.1 342.2M124.3 347.3Q123.8 344.3 123.3 341.4M124.3 347.3Q126.6 344.2 128.2 340.8M113.5 355.6Q115.9 356.1 118.3 356.7M130.7 329.5Q128.4 332.3 125.9 334.8M118.9 364Q120.3 364.1 121.7 364.1M104.8 348.3Q105.3 343.6 106.1 338.9M135.1 344.1Q136.1 346 137.1 347.8M104.8 348.3Q111.9 362.9 118.9 377.4" stroke-width="1.27" stroke-opacity="1"/>
<path d="M40.3 286.9L30.1 282.2M40.3 286.9L30.4 290.2M40.3 286.9L32.9 300.5M117.8 328.5Q114.2 331.2 111.1 334.5M117.8 328.5Q121.7 331.8 125.9 334.8M113.5 355.6Q108.6 353.8 103.6 352.7M99.4 332.7Q104.6 330.7 109.2 327.6M130.7 329.5Q135.3 326.2 139.4 322.3M118.9 364Q122.7 364.7 126.6 364.9M118.9 364Q116.7 360.2 115.1 356.1M118.9 364Q114.7 360.3 110.1 357.3M135.1 344.1Q136.1 346.6 137 349M135.1 344.1Q131.4 342.9 128.2 340.8M104.8 348.3Q110.9 361.5 113.5 375.9" stroke-width="1.27" stroke-opacity="1"/>
<path d="M117.8 328.5Q117.3 330.4 116.7 332.3M109.2 341Q110.8 341.6 112.4 342M109.2 341Q110.2 345.7 111 350.4M99.4 332.7Q106.3 336.9 112.4 342M117.8 317Q120.1 318.9 122.1 321.2M109.2 341Q120.3 353.8 128.3 368.8" stroke-width="1.48" stroke-opacity="1"/>
<path d="M117.8 328.5Q115.1 330.9 112 333M117.8 328.5Q113 324.9 108.1 321.7M124.3 347.3Q122.7 344.7 121.1 342.2M124.3 347.3Q125.1 344.1 125.8 340.9M113.5 355.6Q111.9 356.6 110.1 357.3M113.5 355.6Q111.8 359.4 110.1 363.1M117.8 317Q121.6 321.8 124.3 327.4M113.5 355.6Q119.6 360.9 126.6 364.9" stroke-width="1.48" stroke-opacity="1"/>
<path d="M109.2 341Q107.2 344.3 105.5 347.7M109.2 341Q104.1 339.5 98.9 338.7M99.4 332.7Q99 335.7 98.9 338.7M118.9 364Q123.4 366.6 128.3 368.8M117.8 317Q113.1 319.7 108.1 321.7M117.8 317Q113.9 325.6 111.1 334.5M104.8 348.3Q105.8 353.9 107.7 359.2M135.1 344.1Q134.8 340.7 134.8 337.4M94 321.2Q99.4 327 104.8 332.7" stroke-width="1.48" stroke-opacity="1"/>
<path d="M117.8 328.5Q120.3 332.2 122.1 336.2M124.3 347.3Q128.7 346.7 133.1 346.6M113.5 355.6Q117.9 354.4 122.1 352.5M117.8 317Q115 325 112 333M104.8 348.3Q104.4 343.9 103 339.7M94 321.2Q95.9 330.1 98.9 338.7M94 321.2Q99.5 330.5 106.1 338.9M94 321.2Q99.9 331.5 107.5 340.5" stroke-width="1.7" stroke-opacity="1"/>
<path d="M124.3 347.3Q123.1 349.8 122.1 352.5" stroke-width="1.7" stroke-opacity="1"/>
<path d="M135.1 344.1Q139.4 344 143.8 344.4" stroke-width="1.7" stroke-opacity="1"/>
</g>
<circle cx="117.8" cy="328.5" r="0.38" fill="#5B2CA0"/>
<circle cx="109.2" cy="341" r="0.38" fill="#5B2CA0"/>
<circle cx="124.3" cy="347.3" r="0.38" fill="#5B2CA0"/>
<circle cx="113.5" cy="355.6" r="0.38" fill="#5B2CA0"/>
<circle cx="99.4" cy="332.7" r="0.38" fill="#5B2CA0"/>
<circle cx="130.7" cy="329.5" r="0.38" fill="#5B2CA0"/>
<circle cx="118.9" cy="364" r="0.38" fill="#5B2CA0"/>
<circle cx="117.8" cy="317" r="0.38" fill="#5B2CA0"/>
<circle cx="104.8" cy="348.3" r="0.38" fill="#5B2CA0"/>
<circle cx="135.1" cy="344.1" r="0.38" fill="#5B2CA0"/>
<circle cx="94" cy="321.2" r="0.38" fill="#5B2CA0"/>
<circle cx="40.3" cy="286.9" r="0.62" fill="#E8801E"/>
<circle cx="29.5" cy="317.2" r="0.62" fill="#A08A60"/>
<circle cx="208.7" cy="404.9" r="0.62" fill="#F0A030"/>
<circle cx="147.8" cy="325.7" r="0.62" fill="#E8801E"/>
<circle cx="128.2" cy="346.5" r="0.63" fill="#F09A30"/>
<circle cx="133.1" cy="346.6" r="0.63" fill="#D95F0E"/>
<circle cx="122.1" cy="340.3" r="0.64" fill="#D95F0E"/>
<circle cx="128.2" cy="340.8" r="0.67" fill="#E8801E"/>
<circle cx="98.9" cy="338.7" r="0.68" fill="#D95F0E"/>
<circle cx="121.3" cy="329.3" r="0.69" fill="#F09A30"/>
<circle cx="107.7" cy="359.2" r="0.71" fill="#F09A30"/>
<circle cx="112" cy="333" r="0.72" fill="#D95F0E"/>
<circle cx="92.4" cy="329.9" r="0.75" fill="#E8801E"/>
<circle cx="18.1" cy="311.7" r="0.75" fill="#A08A60"/>
<circle cx="25.4" cy="309" r="0.75" fill="#A08A60"/>
<circle cx="40.3" cy="312.1" r="0.75" fill="#A08A60"/>
<circle cx="21.3" cy="320.1" r="0.75" fill="#A08A60"/>
<circle cx="25.4" cy="325.1" r="0.75" fill="#A08A60"/>
<circle cx="32.9" cy="326.8" r="0.75" fill="#A08A60"/>
<circle cx="39.5" cy="322.7" r="0.75" fill="#A08A60"/>
<circle cx="33.6" cy="310.2" r="0.75" fill="#A08A60"/>
<circle cx="57.1" cy="308.3" r="0.75" fill="#E8801E"/>
<circle cx="78.5" cy="310.2" r="0.75" fill="#E8801E"/>
<circle cx="96.2" cy="315.9" r="0.75" fill="#E8801E"/>
<circle cx="100.5" cy="309.7" r="0.75" fill="#E8801E"/>
<circle cx="94" cy="326.4" r="0.75" fill="#E8801E"/>
<circle cx="84.3" cy="346.2" r="0.75" fill="#E8801E"/>
<circle cx="78.9" cy="354.6" r="0.75" fill="#E8801E"/>
<circle cx="136.1" cy="315.9" r="0.75" fill="#E8801E"/>
<circle cx="154.5" cy="341" r="0.75" fill="#E8801E"/>
<circle cx="156.6" cy="351.4" r="0.75" fill="#E8801E"/>
<circle cx="137.1" cy="347.8" r="0.76" fill="#E8801E"/>
<circle cx="123.1" cy="331.9" r="0.76" fill="#E8801E"/>
<circle cx="136.8" cy="338.9" r="0.79" fill="#E8801E"/>
<circle cx="107.5" cy="340.5" r="0.81" fill="#D95F0E"/>
<circle cx="118.3" cy="356.7" r="0.81" fill="#F09A30"/>
<circle cx="103.1" cy="358.6" r="0.82" fill="#F09A30"/>
<circle cx="116.7" cy="332.3" r="0.82" fill="#E8801E"/>
<circle cx="106.1" cy="338.9" r="0.84" fill="#F09A30"/>
<circle cx="121.1" cy="342.2" r="0.86" fill="#F09A30"/>
<circle cx="67.5" cy="297.8" r="0.88" fill="#E8801E"/>
<circle cx="72.7" cy="312.6" r="0.88" fill="#E8801E"/>
<circle cx="67" cy="319.4" r="0.88" fill="#E8801E"/>
<circle cx="105.6" cy="303.8" r="0.88" fill="#E8801E"/>
<circle cx="128.7" cy="305.2" r="0.88" fill="#E8801E"/>
<circle cx="143.6" cy="306.3" r="0.88" fill="#E8801E"/>
<circle cx="73.5" cy="352.1" r="0.88" fill="#E8801E"/>
<circle cx="122.1" cy="336.2" r="0.88" fill="#F09A30"/>
<circle cx="139.4" cy="322.3" r="0.88" fill="#E8801E"/>
<circle cx="109.2" cy="327.6" r="0.89" fill="#E8801E"/>
<circle cx="139.7" cy="345.5" r="0.92" fill="#E8801E"/>
<circle cx="117.1" cy="331.2" r="0.93" fill="#E8801E"/>
<circle cx="111.1" cy="334.5" r="0.94" fill="#D95F0E"/>
<circle cx="143.8" cy="344.4" r="0.97" fill="#D95F0E"/>
<circle cx="105.5" cy="347.7" r="0.99" fill="#E8801E"/>
<circle cx="48.5" cy="326.3" r="1" fill="#D96A10"/>
<circle cx="196.6" cy="395.3" r="1" fill="#F0A030"/>
<circle cx="208.2" cy="394.5" r="1" fill="#F0A030"/>
<circle cx="216.8" cy="395.8" r="1" fill="#F0A030"/>
<circle cx="221.4" cy="401.6" r="1" fill="#F0A030"/>
<circle cx="220.8" cy="410.2" r="1" fill="#fff" stroke="#F0A030" stroke-width="0.45"/>
<circle cx="212.7" cy="414.1" r="1" fill="#F0A030"/>
<circle cx="205.2" cy="414.6" r="1" fill="#fff" stroke="#F0A030" stroke-width="0.45"/>
<circle cx="199.8" cy="407.6" r="1" fill="#F0A030"/>
<circle cx="200.6" cy="401" r="1" fill="#F0A030"/>
<circle cx="89.2" cy="296.6" r="1" fill="#E8801E"/>
<circle cx="87.6" cy="311.8" r="1" fill="#E8801E"/>
<circle cx="148" cy="325.8" r="1" fill="#E8801E"/>
<circle cx="103.6" cy="352.7" r="1.01" fill="#D95F0E"/>
<circle cx="123.3" cy="341.4" r="1.01" fill="#F09A30"/>
<circle cx="125.9" cy="334.8" r="1.01" fill="#F09A30"/>
<circle cx="103" cy="339.7" r="1.05" fill="#E8801E"/>
<circle cx="35.4" cy="277.1" r="1.06" fill="#E8801E"/>
<circle cx="43.9" cy="277.4" r="1.06" fill="#E8801E"/>
<circle cx="30.1" cy="282.2" r="1.06" fill="#E8801E"/>
<circle cx="51.8" cy="282.5" r="1.06" fill="#E8801E"/>
<circle cx="51.3" cy="287.8" r="1.06" fill="#E8801E"/>
<circle cx="30.4" cy="290.2" r="1.06" fill="#E8801E"/>
<circle cx="38.6" cy="295" r="1.06" fill="#E8801E"/>
<circle cx="50.7" cy="296.5" r="1.06" fill="#E8801E"/>
<circle cx="82.1" cy="298.7" r="1.12" fill="#E8801E"/>
<circle cx="108.9" cy="295.9" r="1.12" fill="#E8801E"/>
<circle cx="83.3" cy="337.9" r="1.12" fill="#E8801E"/>
<circle cx="87.6" cy="337.2" r="1.12" fill="#E8801E"/>
<circle cx="143.7" cy="359.8" r="1.12" fill="#D95F0E"/>
<circle cx="58.8" cy="342.5" r="1.25" fill="#E8801E"/>
<circle cx="128.3" cy="349.8" r="1.25" fill="#D95F0E"/>
<circle cx="141.5" cy="354.6" r="1.25" fill="#D95F0E"/>
<circle cx="152.1" cy="359.7" r="1.25" fill="#C8560C"/>
<circle cx="140.4" cy="350.4" r="1.25" fill="#C8560C"/>
<circle cx="151.6" cy="363.5" r="1.25" fill="#C8560C"/>
<circle cx="77.6" cy="329.3" r="1.38" fill="#fff" stroke="#E8801E" stroke-width="0.45"/>
<circle cx="148" cy="355.6" r="1.38" fill="#C8560C"/>
<circle cx="159.3" cy="364.7" r="1.38" fill="#E8801E"/>
<circle cx="110.1" cy="363.1" r="1.38" fill="#D95F0E"/>
<circle cx="32.9" cy="300.5" r="1.5" fill="#E8801E"/>
<circle cx="115.8" cy="352.5" r="1.5" fill="#D95F0E"/>
<circle cx="115.1" cy="356.1" r="1.5" fill="#D95F0E"/>
<circle cx="111" cy="350.4" r="1.5" fill="#D95F0E"/>
<circle cx="121.7" cy="364.1" r="1.5" fill="#D95F0E"/>
<circle cx="117.9" cy="369.2" r="1.5" fill="#D95F0E"/>
<circle cx="125.8" cy="340.9" r="1.5" fill="#D95F0E"/>
<circle cx="105.9" cy="355.6" r="1.5" fill="#D95F0E"/>
<circle cx="115.8" cy="337" r="1.5" fill="#D96A10"/>
<circle cx="130.7" cy="334.9" r="1.5" fill="#D96A10"/>
<circle cx="108.1" cy="321.7" r="1.5" fill="#D96A10"/>
<circle cx="122.1" cy="321.2" r="1.5" fill="#D96A10"/>
<circle cx="124.3" cy="327.4" r="1.5" fill="#D96A10"/>
<circle cx="104.8" cy="332.7" r="1.5" fill="#D96A10"/>
<circle cx="112.4" cy="342" r="1.5" fill="#D96A10"/>
<circle cx="118.9" cy="316.5" r="1.5" fill="#D96A10"/>
<circle cx="127.5" cy="319.1" r="1.5" fill="#D96A10"/>
<circle cx="91.4" cy="370" r="1.62" fill="#E8801E"/>
<circle cx="122.1" cy="352.5" r="1.62" fill="#D95F0E"/>
<circle cx="136.5" cy="358.9" r="1.62" fill="#C8560C"/>
<circle cx="110.1" cy="357.3" r="1.75" fill="#D95F0E"/>
<circle cx="137" cy="349" r="1.75" fill="#D95F0E"/>
<circle cx="134.8" cy="337.4" r="1.75" fill="#C8560C"/>
<circle cx="124.2" cy="346.1" r="1.88" fill="#D95F0E"/>
<circle cx="130.7" cy="339.3" r="1.88" fill="#C8560C"/>
<circle cx="147.1" cy="347.3" r="1.88" fill="#C8560C"/>
<circle cx="78.9" cy="288.8" r="2" fill="#E06A10"/>
<circle cx="134.8" cy="356.5" r="2" fill="#D95F0E"/>
<circle cx="132" cy="364.4" r="2" fill="#D95F0E"/>
<circle cx="145.2" cy="343" r="2" fill="#C8560C"/>
<circle cx="120.8" cy="356.8" r="2" fill="#C8560C"/>
<circle cx="104.4" cy="362.1" r="2.12" fill="#A83A06"/>
<circle cx="113.5" cy="363.7" r="2.12" fill="#A83A06"/>
<circle cx="100" cy="375.6" r="2.12" fill="#A83A06"/>
<circle cx="113.5" cy="375.9" r="2.12" fill="#A83A06"/>
<circle cx="118.3" cy="371.6" r="2.12" fill="#A83A06"/>
<circle cx="118.9" cy="377.4" r="2.12" fill="#A83A06"/>
<circle cx="124.2" cy="378" r="2.12" fill="#A83A06"/>
<circle cx="119.5" cy="380.8" r="2.12" fill="#A83A06"/>
<circle cx="126.6" cy="364.9" r="2.12" fill="#A83A06"/>
<circle cx="128.3" cy="368.8" r="2.12" fill="#A83A06"/>
<circle cx="134" cy="353" r="2.12" fill="#D95F0E"/>
</g>
<rect x="212.5" y="156.25" width="3.25" height="3.25" fill="#E41A1C"/>
<rect x="212.5" y="161.47" width="3.25" height="3.25" fill="#377EB8"/>
<rect x="212.5" y="166.7" width="3.25" height="3.25" fill="#4DAF4A"/>
<rect x="212.5" y="171.92" width="3.25" height="3.25" fill="#984EA3"/>
<rect x="212.5" y="177.15" width="3.25" height="3.25" fill="#FF7F00"/>
<rect x="212.5" y="182.37" width="3.25" height="3.25" fill="#FFFF33"/>
<rect x="212.5" y="187.59" width="3.25" height="3.25" fill="#A65628"/>
<rect x="212.5" y="192.82" width="3.25" height="3.25" fill="#F781BF"/>
<rect x="212.5" y="198.04" width="3.25" height="3.25" fill="#999999"/>
<rect x="212.5" y="203.27" width="3.25" height="3.25" fill="#8DD3C7"/>
<rect x="212.5" y="208.49" width="3.25" height="3.25" fill="#FFFFB3"/>
<rect x="212.5" y="213.71" width="3.25" height="3.25" fill="#BEBADA"/>
<rect x="212.5" y="218.94" width="3.25" height="3.25" fill="#FB8072"/>
<rect x="212.5" y="224.16" width="3.25" height="3.25" fill="#80B1D3"/>
<rect x="212.5" y="229.39" width="3.25" height="3.25" fill="#FDB462"/>
<rect x="212.5" y="234.61" width="3.25" height="3.25" fill="#B3DE69"/>
<rect x="212.5" y="239.83" width="3.25" height="3.25" fill="#FCCDE5"/>
<rect x="212.5" y="245.06" width="3.25" height="3.25" fill="#D9D9D9"/>
<rect x="212.5" y="250.28" width="3.25" height="3.25" fill="#BC80BD"/>
<rect x="212.5" y="255.51" width="3.25" height="3.25" fill="#CCEBC5"/>
<rect x="257" y="333.75" width="11" height="11.37" fill="#FFFFD4" stroke="#b9a98c" stroke-width="0.3"/>
<rect x="257" y="345.12" width="11" height="11.37" fill="#FEE391" stroke="#b9a98c" stroke-width="0.3"/>
<rect x="257" y="356.49" width="11" height="11.37" fill="#FEC44F" stroke="#b9a98c" stroke-width="0.3"/>
<rect x="257" y="367.86" width="11" height="11.37" fill="#FE9929" stroke="#b9a98c" stroke-width="0.3"/>
<rect x="257" y="379.23" width="11" height="11.37" fill="#D95F0E" stroke="#b9a98c" stroke-width="0.3"/>
<rect x="257" y="390.6" width="11" height="11.37" fill="#993404" stroke="#b9a98c" stroke-width="0.3"/>
<g id="panelD" filter="url(#bl)">
<path d="M74.5 443L76.2 462.5M74.5 443L74.2 471.8M74.5 443L90.5 470M79.5 451.2L90.5 470M79.5 451.2L101.2 462M79.5 451.2L90.5 470M58.8 458L51.2 471.8M58.8 458L42 470M58.8 458L56.2 478M70.8 456.8L77 476.5M70.8 456.8L55.5 470M70.8 456.8L74.2 471.8M76.2 462.5L79.5 478.8M76.2 462.5L70.8 456.8M76.2 462.5L74.2 471.8M42 470L51.2 478.8M42 470L63.8 473.8M42 470L56.2 484.2M35 473.8L60 466M35 473.8L45 498.8M35 473.8L56.2 478M25 479.2L51.2 478.8M25 479.2L49 502M25 479.2L45 498.8M51.2 471.8L68 466M51.2 471.8L68.8 474.6M51.2 471.8L51.2 478.8M55.5 470L65.2 479.2M55.5 470L63.8 473.8M55.5 470L56.2 478M23.8 494.5L25 479.2M23.8 494.5L35.8 514.5M23.8 494.5L45 498.8M84.2 460L70.8 456.8M84.2 460L79.5 451.2M84.2 460L83 476.8M94.5 462.5L98.2 470.5M94.5 462.5L76.2 462.5M94.5 462.5L90.5 470M101.2 462L84.2 460M101.2 462L108 478M101.2 462L103 477M98.2 470.5L88 468M98.2 470.5L86 480M98.2 470.5L100 484M108 468L108 478M108 468L88 468M108 468L90.5 470M108 478L100 484M108 478L104 496M108 478L93 478.8M107 487.5L100 484M107 487.5L95.7 486.7M107 487.5L103 477M123.2 488.8L103 477M123.2 488.8L108 468M123.2 488.8L104 496M125 504.2L97.5 490.5M125 504.2L97.1 503.9M125 504.2L101 503M35.8 514.5L41.2 519.2M35.8 514.5L58 505M35.8 514.5L57 510M41.2 519.2L57 510M41.2 519.2L51.2 516.2M41.2 519.2L57 510M67.5 527.5L70.4 513.6M67.5 527.5L69.4 511.5M67.5 527.5L66.2 521.2M72.5 526.8L77.5 515M72.5 526.8L79 532M72.5 526.8L66.2 521.2M98.8 535.5L90 524M98.8 535.5L87.5 517.5M98.8 535.5L87.5 517.5M88.2 540.8L82.8 516.9M88.2 540.8L67.5 527.5M88.2 540.8L80 519M100 526.2L93 512M100 526.2L106.2 508.8M100 526.2L90 524M106.2 508.8L97.1 503.9M106.2 508.8L91.1 508.4M106.2 508.8L97.7 502.8M53 521L69.5 522.5M53 521L45 507.5M53 521L62.5 526.2M79 532L67.5 527.5M79 532L73.3 516.8M79 532L84.5 522.5M63.8 473.8L68 466M63.8 473.8L71.3 482.9M63.8 473.8L68.8 474.6M63.8 473.8L55.5 470M56.2 478L51.2 471.8M56.2 478L65.2 479.2M56.2 478L60 490M56.2 478L60 466M51.2 478.8L60 489.5M51.2 478.8L51.2 490.5M51.2 478.8L60 466M51.2 478.8L63.8 473.8M56.2 484.2L51.2 471.8M56.2 484.2L51.2 490.5M56.2 484.2L65.2 479.2M56.2 484.2L60 497.5M51.2 490.5L45 498.8M51.2 490.5L51.2 478.8M51.2 490.5L65.5 483.8M51.2 490.5L60 490M45 507.5L51.2 490.5M45 507.5L60 497.5M45 507.5L54 497M45 507.5L35.8 514.5M51.2 516.2L49 502M51.2 516.2L53 521M51.2 516.2L62.5 526.2M51.2 516.2L66.2 515M62.5 526.2L57 510M62.5 526.2L67.5 527.5M62.5 526.2L72.5 526.8M62.5 526.2L73.3 516.8M74.2 471.8L68 466M74.2 471.8L83 476.8M74.2 471.8L63.8 473.8M74.2 471.8L71.3 482.9M90.5 486.2L83.5 492.1M90.5 486.2L95.7 486.7M90.5 486.2L88.5 493M90.5 486.2L97.5 490.5M97.5 490.5L104 496M97.5 490.5L93.8 483.8M97.5 490.5L96.2 491.7M97.5 490.5L100 484M102.5 512L106.2 508.8M102.5 512L104 496M102.5 512L95.8 505M102.5 512L97.5 500M54 497L58 505M54 497L60 497.5M54 497L60 489.5M54 497L56.2 484.2M49 502L64 499.7M49 502L60 490M49 502L58 505M49 502L57 510M57 510L58 505M57 510L64 499.7M57 510L53 521M57 510L45 507.5M93 512L86.4 511.5M93 512L101 503M93 512L97.1 503.9M93 512L85 507.5M96 519L100 526.2M96 519L91.1 508.4M96 519L82.8 516.9M96 519L86.4 511.5M90 524L100 526.2M90 524L87.5 517.5M90 524L77.5 515M90 524L84.5 522.5M60 466L56.2 478M60 466L51.2 478.8M60 466L70.8 456.8M60 466L55.5 470M68 466L76.2 462.5M68 466L80 477.5M68 466L58.8 458M68 466L68.8 474.6M88 468L94.5 462.5M88 468L79.5 478.8M88 468L83 476.8M88 468L90.5 470M100 484L107 487.5M100 484L95.7 486.7M100 484L108 478M100 484L97.1 494M104 496L97.1 494M104 496L107 487.5M104 496L101 503M104 496L96.2 491.7M101 503L97.7 502.8M101 503L97.5 500M101 503L104 496M101 503L89.8 506.9M65.3 484L69 478M65.3 484L65.2 479.2M65.3 484L60 490M65.3 484L71.3 482.9M92.2 490L90.5 486.2M92.2 490L96.2 491.7M92.2 490L88.5 493M92.2 490L97.5 490.5M87.1 497.9L91.1 492.7M87.1 497.9L88 498.8M87.1 497.9L92 494M87.1 497.9L83.3 500.3M65.2 479.2L74.2 482M65.2 479.2L56.2 484.2M65.2 479.2L56.2 478M65.2 479.2L63.8 473.8M71.7 497.1L74.7 498.9M71.7 497.1L72.1 498M71.7 497.1L72.5 492M71.7 497.1L72 498M76.7 495.9L77.8 497.6M76.7 495.9L80.2 492.5M76.7 495.9L71.7 497.1M76.7 495.9L74.9 494M73.3 516.8L69.4 511.5M73.3 516.8L77.5 515M73.3 516.8L69.1 509.9M73.3 516.8L80 519M86.4 511.5L82.8 516.9M86.4 511.5L77.5 515M86.4 511.5L84.5 522.5M86.4 511.5L93 512M74.9 494L80.2 492.5M74.9 494L71.7 497.1M74.9 494L81.2 494.7M74.9 494L77.8 497.6M80.2 492.5L78.9 487.8M80.2 492.5L77.8 497.6M80.2 492.5L82 489.5M80.2 492.5L83.5 492.1M96.1 493.8L97.1 494M96.1 493.8L104 496M96.1 493.8L97.5 490.5M96.1 493.8L92 494M88.5 493L83.5 492.1M88.5 493L88 498.8M88.5 493L91.9 496.3M88.5 493L88 493M82.8 516.9L73.2 518.5M82.8 516.9L78.8 511.2M82.8 516.9L86.4 511.5M82.8 516.9L73.3 516.8M96.2 491.7L97.1 494M96.2 491.7L93.8 483.8M96.2 491.7L97.5 500M96.2 491.7L96.1 493.8M74.7 498.9L72 498M74.7 498.9L70.2 499.8M74.7 498.9L71.7 497.1M74.7 498.9L72.1 498M83.1 498.8L83.1 505M83.1 498.8L87.1 497.9M83.1 498.8L83.3 500.3M83.1 498.8L86.5 494.7M91.9 496.3L96.1 493.8M91.9 496.3L92 494M91.9 496.3L92.2 490M91.9 496.3L88 493M70.4 513.6L69.5 505M70.4 513.6L72.7 506.2M70.4 513.6L71.5 508.6M70.4 513.6L71.2 508.8M72.7 506.2L71.5 508.6M72.7 506.2L69.5 505M72.7 506.2L70.4 513.6M72.7 506.2L69.4 511.5M97.1 503.9L106.2 508.8M97.1 503.9L89.8 506.9M97.1 503.9L96.1 493.8M97.1 503.9L91.1 508.4M77 476.5L74.2 482M77 476.5L79.5 478.8M77 476.5L68.8 474.6M77 476.5L74.2 471.8M78.9 487.8L76.2 487.5M78.9 487.8L74.2 482M78.9 487.8L74.9 494M78.9 487.8L83.5 492.1M78 496.1L77.5 495.3M78 496.1L74.7 498.9M78 496.1L74 500.7M78 496.1L80.2 492.5M81.2 494.7L76.7 495.9M81.2 494.7L77.5 495.3M81.2 494.7L80.2 492.5M81.2 494.7L82 489.5M95.7 486.7L97.1 494M95.7 486.7L93.8 483.8M95.7 486.7L93 478.8M95.7 486.7L96.2 491.7M69.9 505.6L72.1 498M69.9 505.6L69.5 505M69.9 505.6L72 498M69.9 505.6L69.1 509.9M89.8 506.9L83.3 500.3M89.8 506.9L91.1 508.4M89.8 506.9L87.1 497.9M89.8 506.9L93 512M77.5 495.3L74.9 494M77.5 495.3L78.3 500.6M77.5 495.3L72 498M77.5 495.3L76.7 495.9M83.3 500.3L77.8 497.6M83.3 500.3L84.3 496.3M83.3 500.3L78 503.8M83.3 500.3L82 497M83.5 492.1L88.5 493M83.5 492.1L86.5 494.7M83.5 492.1L88 493M83.5 492.1L84.3 496.3M70.4 494L77.5 495.3M70.4 494L72.5 492M70.4 494L67 491.2M70.4 494L71.7 488.7M77.8 497.6L74.7 498.9M77.8 497.6L74.9 494M77.8 497.6L76.7 495.9M77.8 497.6L72 498M68.8 474.6L65.2 479.2M68.8 474.6L65.5 483.8M68.8 474.6L63.8 473.8M68.8 474.6L74.2 482M97.7 502.8L104 496M97.7 502.8L93 512M97.7 502.8L101 503M97.7 502.8L91.1 508.4M80 477.5L79.5 478.8M80 477.5L68.8 474.6M80 477.5L86 480M80 477.5L76.2 483M103 477L93.8 483.8M103 477L107 487.5M103 477L96.2 491.7M103 477L90.5 470M79.5 478.8L76.2 487.5M79.5 478.8L80 477.5M79.5 478.8L78.9 487.8M79.5 478.8L83 476.8M93.8 483.8L92.2 490M93.8 483.8L90.5 486.2M93.8 483.8L96.2 491.7M93.8 483.8L91.1 492.7M76.2 487.5L70.8 486.2M76.2 487.5L71.7 488.7M76.2 487.5L82.3 490.8M76.2 487.5L77.5 495.3M67 491.2L70.4 494M67 491.2L71.7 488.7M67 491.2L71.7 497.1M67 491.2L72 498M97.5 500L101 503M97.5 500L96.1 493.8M97.5 500L91.9 496.3M97.5 500L97.1 494M86 480L77 476.5M86 480L79.5 478.8M86 480L93.8 483.8M86 480L93 478.8M83 476.8L86 480M83 476.8L74.2 482M83 476.8L90.5 486.2M83 476.8L81.4 489M72.5 492L72 498M72.5 492L71.7 488.7M72.5 492L77.5 495.3M72.5 492L78 496.1M78 503.8L74.7 498.9M78 503.8L82 497M78 503.8L83.3 500.3M78 503.8L83.1 505M69.5 505L69.4 511.5M69.5 505L69.9 505.6M69.5 505L72 498M69.5 505L71.2 508.8M63 511.2L69.5 505M63 511.2L66.2 515M63 511.2L57 510M63 511.2L69.1 509.9M85 507.5L83.1 505M85 507.5L78.3 500.6M85 507.5L83.1 498.8M85 507.5L91.1 508.4M66.2 515L71.2 508.8M66.2 515L69.1 509.9M66.2 515L69.9 505.6M66.2 515L66.2 521.2M72 498L68.3 497.6M72 498L74.7 498.9M72 498L78 496.1M72 498L72.5 492M82 497L77.5 495.3M82 497L77.8 497.6M82 497L84.3 496.3M82 497L78.3 500.6M65.5 483.8L65.3 484M65.5 483.8L65.2 479.2M65.5 483.8L70.8 486.2M65.5 483.8L71.7 488.7M82 489.5L82 497M82 489.5L81.2 494.7M82 489.5L86.5 494.7M82 489.5L77.5 495.3M58 505L54 497M58 505L68.3 497.6M58 505L57 510M58 505L63.5 501M60 490L60 489.5M60 490L65.5 483.8M60 490L70.4 494M60 490L70.8 486.2M88 493L91.9 496.3M88 493L87.1 497.9M88 493L82 489.5M88 493L84.3 496.3M75 510L71.2 508.8M75 510L69.4 511.5M75 510L77.5 515M75 510L69.9 505.6M70.8 486.2L65.5 483.8M70.8 486.2L74.9 494M70.8 486.2L71.3 482.9M70.8 486.2L71.7 488.7M60 489.5L65.5 483.8M60 489.5L60 490M60 489.5L65.2 479.2M60 489.5L65.3 484M45 498.8L56.2 484.2M45 498.8L58 505M45 498.8L60 497.5M45 498.8L35.8 514.5M60 497.5L64 500M60 497.5L71.7 497.1M60 497.5L54 497M60 497.5L58 505M64 500L64 499.7M64 500L72.1 498M64 500L58 505M64 500L70.4 494M86 514L84.5 522.5M86 514L77.5 515M86 514L91.1 508.4M86 514L78.8 511.2M76.2 483L79.5 478.8M76.2 483L76.2 487.5M76.2 483L83 476.8M76.2 483L78.9 487.8M88 498.8L86.5 494.7M88 498.8L88.6 495.4M88 498.8L82 497M88 498.8L83.3 500.3M77.5 515L71.5 508.6M77.5 515L86.4 511.5M77.5 515L69.4 511.5M77.5 515L86 514M73.2 518.5L69.4 511.5M73.2 518.5L72.5 526.8M73.2 518.5L75 510M73.2 518.5L70.4 513.6M92 494L91.9 496.3M92 494L86.5 494.7M92 494L96.1 493.8M92 494L88.5 493M71.2 508.8L69.1 509.9M71.2 508.8L69.9 505.6M71.2 508.8L78.8 511.2M71.2 508.8L76.3 507.3M78.8 511.2L78 503.8M78.8 511.2L86 514M78.8 511.2L77.5 515M78.8 511.2L72.7 506.2M87.5 517.5L84.5 522.5M87.5 517.5L91.1 508.4M87.5 517.5L82.8 516.9M87.5 517.5L80 519M84.5 522.5L82.8 516.9M84.5 522.5L78.8 511.2M84.5 522.5L96 519M84.5 522.5L86.4 511.5M69.5 522.5L80 519M69.5 522.5L67.5 527.5M69.5 522.5L72.5 526.8M69.5 522.5L63 511.2M66.2 521.2L63 511.2M66.2 521.2L62.5 526.2M66.2 521.2L53 521M66.2 521.2L70.4 513.6M80 519L87.5 517.5M80 519L77.5 515M80 519L70.4 513.6M80 519L73.2 518.5M74.2 482L70.8 486.2M74.2 482L71.7 488.7M74.2 482L65.5 483.8M74.2 482L71.3 482.9M90.5 470L80 477.5M90.5 470L84.2 460M90.5 470L88 468M90.5 470L98.2 470.5M93 478.8L103 477M93 478.8L98.2 470.5M93 478.8L90.5 470M93 478.8L86 480M95.8 505L97.7 502.8M95.8 505L91.9 496.3M95.8 505L89.8 506.9M95.8 505L101 503M69 478L65.5 483.8M69 478L77 476.5M69 478L76.2 483M69 478L65.2 479.2M74 500.7L78.3 500.6M74 500.7L72.1 498M74 500.7L76.7 495.9M74 500.7L77.8 497.6M70.2 499.8L71.7 497.1M70.2 499.8L74 500.7M70.2 499.8L64 500M70.2 499.8L72.1 498M81.4 489L86.5 494.7M81.4 489L77.5 495.3M81.4 489L81.2 494.7M81.4 489L78.9 487.8M91.1 492.7L88.5 493M91.1 492.7L96.1 493.8M91.1 492.7L91.9 496.3M91.1 492.7L92.2 490M83.1 505L89.8 506.9M83.1 505L85 507.5M83.1 505L87.1 497.9M83.1 505L78.3 500.6M76.3 507.3L72.7 506.2M76.3 507.3L75 510M76.3 507.3L78.8 511.2M76.3 507.3L69.5 505M88.6 495.4L84.3 496.3M88.6 495.4L88.5 493M88.6 495.4L88 498.8M88.6 495.4L83.5 492.1M72.1 498L72 498M72.1 498L70.2 499.8M72.1 498L70.4 494M72.1 498L76.7 495.9M91.1 508.4L89.8 506.9M91.1 508.4L86 514M91.1 508.4L97.5 500M91.1 508.4L88 498.8M71.7 488.7L71.3 482.9M71.7 488.7L76.2 487.5M71.7 488.7L70.4 494M71.7 488.7L67 491.2M68.3 497.6L72.1 498M68.3 497.6L64 500M68.3 497.6L72.5 492M68.3 497.6L69.5 505M69.1 509.9L69.5 505M69.1 509.9L69.9 505.6M69.1 509.9L69.4 511.5M69.1 509.9L71.2 508.8M71.3 482.9L70.8 486.2M71.3 482.9L68.8 474.6M71.3 482.9L65.3 484M71.3 482.9L74.2 482M82.3 490.8L88.5 493M82.3 490.8L82 489.5M82.3 490.8L84.3 496.3M82.3 490.8L78.9 487.8M86.5 494.7L88 493M86.5 494.7L83.5 492.1M86.5 494.7L83.1 498.8M86.5 494.7L88.6 495.4M64 499.7L63.5 501M64 499.7L70.2 499.8M64 499.7L60 497.5M64 499.7L69.5 505M63.5 501L70.2 499.8M63.5 501L72 498M63.5 501L70.4 494M63.5 501L64 499.7M71.5 508.6L78 503.8M71.5 508.6L69.5 505M71.5 508.6L75 510M71.5 508.6L69.4 511.5M69.4 511.5L71.5 508.6M69.4 511.5L69.5 505M69.4 511.5L71.2 508.8M69.4 511.5L66.2 515M97.1 494L88.5 493M97.1 494L91.1 492.7M97.1 494L97.5 490.5M97.1 494L92 494M84.3 496.3L82 497M84.3 496.3L87.1 497.9M84.3 496.3L83.5 492.1M84.3 496.3L80.2 492.5M78.3 500.6L77.8 497.6M78.3 500.6L82 497M78.3 500.6L74 500.7M78.3 500.6L72.1 498" stroke="#6A3DAE" stroke-width="0.45" stroke-opacity="0.85" fill="none"/>
<path d="M63.8 473.8L77 476.5M63.8 473.8L72.5 492M63.8 473.8L80.2 492.5M56.2 478L79.5 478.8M56.2 478L80 477.5M56.2 478L60 497.5M51.2 478.8L68.3 497.6M51.2 478.8L60 497.5M51.2 478.8L74.2 482M56.2 484.2L72 498M56.2 484.2L54 497M56.2 484.2L76.2 483M51.2 490.5L69.9 505.6M51.2 490.5L64 499.7M51.2 490.5L65.2 479.2M45 507.5L70.4 513.6M45 507.5L63 511.2M45 507.5L60 489.5M51.2 516.2L73.3 516.8M51.2 516.2L69.9 505.6M51.2 516.2L72.1 498M62.5 526.2L69.5 505M62.5 526.2L71.5 508.6M62.5 526.2L72.7 506.2M74.2 471.8L60 489.5M74.2 471.8L70.8 486.2M74.2 471.8L76.2 483M90.5 486.2L76.7 495.9M90.5 486.2L82 497M90.5 486.2L88 498.8M97.5 490.5L81.4 489M97.5 490.5L108 478M97.5 490.5L86.5 494.7M102.5 512L88 493M102.5 512L90 524M102.5 512L82 497M54 497L69.4 511.5M54 497L74.7 498.9M54 497L71.2 508.8M49 502L56.2 478M49 502L63 511.2M49 502L71.2 508.8M57 510L75 510M57 510L74.7 498.9M57 510L41.2 519.2M93 512L88.5 493M93 512L84.3 496.3M93 512L96.2 491.7M96 519L106.2 508.8M96 519L97.1 503.9M96 519L79 532M90 524L67.5 527.5M90 524L71.2 508.8M90 524L88.2 540.8M60 466L65.3 484M60 466L60 489.5M60 466L77 476.5M68 466L83 476.8M68 466L60 490M68 466L65.3 484M88 468L90.5 486.2M88 468L82.3 490.8M88 468L93.8 483.8M100 484L86 480M100 484L84.3 496.3M100 484L88.5 493M104 496L125 504.2M104 496L84.3 496.3M104 496L93 478.8M101 503L82.3 490.8M101 503L86.4 511.5M101 503L107 487.5M65.3 484L79.5 478.8M65.3 484L51.2 490.5M65.3 484L82 489.5M92.2 490L97.1 503.9M92.2 490L82 489.5M92.2 490L100 484M87.1 497.9L83.1 505M87.1 497.9L91.1 492.7M87.1 497.9L80.2 492.5M65.2 479.2L71.7 497.1M65.2 479.2L72.1 498M65.2 479.2L76.2 462.5M71.7 497.1L83.1 505M71.7 497.1L78.9 487.8M71.7 497.1L78 496.1M76.7 495.9L82.3 490.8M76.7 495.9L70.4 494M76.7 495.9L88.5 493M73.3 516.8L78.3 500.6M73.3 516.8L86.4 511.5M73.3 516.8L85 507.5M86.4 511.5L102.5 512M86.4 511.5L96 519M86.4 511.5L71.2 508.8M74.9 494L71.3 482.9M74.9 494L63.5 501M74.9 494L71.7 488.7M80.2 492.5L78 503.8M80.2 492.5L76.2 487.5M80.2 492.5L83.1 498.8M96.1 493.8L100 484M96.1 493.8L88 493M96.1 493.8L106.2 508.8M88.5 493L97.7 502.8M88.5 493L89.8 506.9M88.5 493L77.5 495.3M82.8 516.9L88 498.8M82.8 516.9L91.1 508.4M82.8 516.9L71.2 508.8M96.2 491.7L81.2 494.7M96.2 491.7L83.3 500.3M96.2 491.7L78.9 487.8M74.7 498.9L83.1 505M74.7 498.9L69.9 505.6M74.7 498.9L71.2 508.8M83.1 498.8L88.6 495.4M83.1 498.8L72.1 498M83.1 498.8L72 498M91.9 496.3L77.5 495.3M91.9 496.3L83.5 492.1M91.9 496.3L83.1 498.8M70.4 513.6L86.4 511.5M70.4 513.6L67.5 527.5M70.4 513.6L82.8 516.9M72.7 506.2L73.3 516.8M72.7 506.2L78.3 500.6M72.7 506.2L74.9 494M97.1 503.9L86.4 511.5M97.1 503.9L78.3 500.6M97.1 503.9L82 497M77 476.5L82.3 490.8M77 476.5L88 468M77 476.5L76.2 462.5M78.9 487.8L88.5 493M78.9 487.8L74.9 494M78.9 487.8L87.1 497.9M78 496.1L82 489.5M78 496.1L72.1 498M78 496.1L85 507.5M81.2 494.7L72.5 492M81.2 494.7L68.3 497.6M81.2 494.7L74.9 494M95.7 486.7L88 493M95.7 486.7L79.5 478.8M95.7 486.7L78.9 487.8M69.9 505.6L73.2 518.5M69.9 505.6L72.5 492M69.9 505.6L58 505M89.8 506.9L78 503.8M89.8 506.9L96.2 491.7M89.8 506.9L77.5 515M77.5 495.3L87.1 497.9M77.5 495.3L82.3 490.8M77.5 495.3L83.1 498.8M83.3 500.3L74 500.7M83.3 500.3L86.5 494.7M83.3 500.3L72.7 506.2M83.5 492.1L96.1 493.8M83.5 492.1L70.4 494M83.5 492.1L76.7 495.9M70.4 494L81.2 494.7M70.4 494L64 499.7M70.4 494L76.2 487.5M77.8 497.6L88.6 495.4M77.8 497.6L78.9 487.8M77.8 497.6L72.5 492M68.8 474.6L60 489.5M68.8 474.6L60 466M68.8 474.6L74.9 494M97.7 502.8L106.2 508.8M97.7 502.8L93.8 483.8M97.7 502.8L92.2 490M80 477.5L74.9 494M80 477.5L70.8 486.2M80 477.5L82 489.5M103 477L97.5 490.5M103 477L88.6 495.4M103 477L97.1 494M79.5 478.8L81.4 489M79.5 478.8L82 489.5M79.5 478.8L68 466M93.8 483.8L83 476.8M93.8 483.8L78.9 487.8M93.8 483.8L88 493M76.2 487.5L88.5 493M76.2 487.5L74.7 498.9M76.2 487.5L65.5 483.8M67 491.2L72 498M67 491.2L71.3 482.9M67 491.2L72.1 498M97.5 500L97.5 490.5M97.5 500L102.5 512M97.5 500L96 519M86 480L96.2 491.7M86 480L97.5 490.5M86 480L82 489.5M83 476.8L93.8 483.8M83 476.8L98.2 470.5M83 476.8L77.5 495.3M72.5 492L60 489.5M72.5 492L63.5 501M72.5 492L80.2 492.5M78 503.8L70.4 513.6M78 503.8L70.4 494M78 503.8L71.2 508.8M69.5 505L85 507.5M69.5 505L83.3 500.3M69.5 505L82 497M63 511.2L67.5 527.5M63 511.2L72.7 506.2M63 511.2L53 521M85 507.5L88.5 493M85 507.5L74.7 498.9M85 507.5L71.2 508.8M66.2 515L72.5 526.8M66.2 515L70.2 499.8M66.2 515L85 507.5M72 498L80.2 492.5M72 498L78 496.1M72 498L81.4 489M82 497L74 500.7M82 497L72.7 506.2M82 497L85 507.5M65.5 483.8L56.2 478M65.5 483.8L72 498M65.5 483.8L68.3 497.6M82 489.5L72 498M82 489.5L76.7 495.9M82 489.5L91.1 492.7M58 505L78.3 500.6M58 505L72.7 506.2M58 505L74.7 498.9M60 490L74.2 482M60 490L78.9 487.8M60 490L74 500.7M88 493L97.7 502.8M88 493L82 489.5M88 493L85 507.5M75 510L78 503.8M75 510L64 499.7M75 510L70.2 499.8M70.8 486.2L71.7 497.1M70.8 486.2L74.7 498.9M70.8 486.2L83.5 492.1M60 489.5L68.3 497.6M60 489.5L70.4 494M60 489.5L71.7 488.7M45 498.8L53 521M45 498.8L65.2 479.2M45 498.8L71.7 488.7M60 497.5L65.2 479.2M60 497.5L77.5 495.3M60 497.5L76.7 495.9M64 500L63 511.2M64 500L65.5 483.8M64 500L71.5 508.6M86 514L87.1 497.9M86 514L76.3 507.3M86 514L69.4 511.5M76.2 483L76.7 495.9M76.2 483L70.4 494M76.2 483L72.5 492M88 498.8L92.2 490M88 498.8L80.2 492.5M88 498.8L83.1 505M77.5 515L74.7 498.9M77.5 515L72.5 526.8M77.5 515L70.2 499.8M73.2 518.5L85 507.5M73.2 518.5L74.7 498.9M73.2 518.5L86.4 511.5M92 494L83.1 505M92 494L88 498.8M92 494L83.1 498.8M71.2 508.8L72.1 498M71.2 508.8L57 510M71.2 508.8L78.3 500.6M78.8 511.2L71.2 508.8M78.8 511.2L72.7 506.2M78.8 511.2L87.1 497.9M87.5 517.5L97.1 503.9M87.5 517.5L69.1 509.9M87.5 517.5L69.4 511.5M84.5 522.5L85 507.5M84.5 522.5L96 519M84.5 522.5L76.3 507.3M69.5 522.5L90 524M69.5 522.5L78.8 511.2M69.5 522.5L58 505M66.2 521.2L86 514M66.2 521.2L69.9 505.6M66.2 521.2L80 519M80 519L66.2 515M80 519L89.8 506.9M80 519L69.5 505M74.2 482L70.4 494M74.2 482L72.1 498M74.2 482L88 493M90.5 470L91.1 492.7M90.5 470L95.7 486.7M90.5 470L79.5 478.8M93 478.8L81.2 494.7M93 478.8L83.5 492.1M93 478.8L88 468M95.8 505L97.5 490.5M95.8 505L82 497M95.8 505L104 496M69 478L56.2 478M69 478L81.4 489M69 478L51.2 471.8M74 500.7L69.9 505.6M74 500.7L83.3 500.3M74 500.7L69.4 511.5M70.2 499.8L77.5 495.3M70.2 499.8L60 497.5M70.2 499.8L77.8 497.6M81.4 489L77 476.5M81.4 489L88 498.8M81.4 489L86 480M91.1 492.7L95.7 486.7M91.1 492.7L97.1 494M91.1 492.7L93.8 483.8M83.1 505L69.9 505.6M83.1 505L80.2 492.5M83.1 505L74.9 494M76.3 507.3L81.2 494.7M76.3 507.3L83.1 505M76.3 507.3L84.3 496.3M88.6 495.4L91.1 508.4M88.6 495.4L74.9 494M88.6 495.4L83.1 498.8M72.1 498L75 510M72.1 498L77.5 495.3M72.1 498L71.7 488.7M91.1 508.4L84.5 522.5M91.1 508.4L87.5 517.5M91.1 508.4L83.1 498.8M71.7 488.7L77 476.5M71.7 488.7L76.7 495.9M71.7 488.7L83.5 492.1M68.3 497.6L71.2 508.8M68.3 497.6L71.7 488.7M68.3 497.6L65.5 483.8M69.1 509.9L64 500M69.1 509.9L85 507.5M69.1 509.9L78.8 511.2M71.3 482.9L56.2 484.2M71.3 482.9L74.9 494M71.3 482.9L82 489.5M82.3 490.8L72.1 498M82.3 490.8L74.9 494M82.3 490.8L72.5 492M86.5 494.7L83.1 498.8M86.5 494.7L77.5 495.3M86.5 494.7L74.7 498.9M64 499.7L77.5 495.3M64 499.7L63 511.2M64 499.7L60 489.5M63.5 501L76.7 495.9M63.5 501L69.1 509.9M63.5 501L74 500.7M71.5 508.6L76.7 495.9M71.5 508.6L57 510M71.5 508.6L83.3 500.3M69.4 511.5L73.3 516.8M69.4 511.5L70.4 494M69.4 511.5L69.5 505M97.1 494L86 480M97.1 494L97.7 502.8M97.1 494L95.7 486.7M84.3 496.3L76.3 507.3M84.3 496.3L74.9 494M84.3 496.3L92.2 490M78.3 500.6L82.3 490.8M78.3 500.6L68.3 497.6M78.3 500.6L83.1 505" stroke="#6A3DAE" stroke-width="0.4" stroke-opacity="0.6" fill="none"/>
<circle cx="74.5" cy="443" r="1.3" fill="#CFE3F5" stroke="#2468AE" stroke-width="0.6"/>
<circle cx="79.5" cy="451.2" r="1.3" fill="#CFE3F5" stroke="#2468AE" stroke-width="0.6"/>
<circle cx="58.8" cy="458" r="1.3" fill="#CFE3F5" stroke="#2468AE" stroke-width="0.6"/>
<circle cx="70.8" cy="456.8" r="1.3" fill="#CFE3F5" stroke="#2468AE" stroke-width="0.6"/>
<circle cx="76.2" cy="462.5" r="1.3" fill="#CFE3F5" stroke="#2468AE" stroke-width="0.6"/>
<circle cx="42" cy="470" r="1.3" fill="#CFE3F5" stroke="#2468AE" stroke-width="0.6"/>
<circle cx="35" cy="473.8" r="1.3" fill="#CFE3F5" stroke="#2468AE" stroke-width="0.6"/>
<circle cx="25" cy="479.2" r="1.3" fill="#CFE3F5" stroke="#2468AE" stroke-width="0.6"/>
<circle cx="51.2" cy="471.8" r="1.3" fill="#CFE3F5" stroke="#2468AE" stroke-width="0.6"/>
<circle cx="55.5" cy="470" r="1.3" fill="#CFE3F5" stroke="#2468AE" stroke-width="0.6"/>
<circle cx="23.8" cy="494.5" r="1.3" fill="#CFE3F5" stroke="#2468AE" stroke-width="0.6"/>
<circle cx="84.2" cy="460" r="1.3" fill="#CFE3F5" stroke="#2468AE" stroke-width="0.6"/>
<circle cx="94.5" cy="462.5" r="1.3" fill="#CFE3F5" stroke="#2468AE" stroke-width="0.6"/>
<circle cx="101.2" cy="462" r="1.3" fill="#CFE3F5" stroke="#2468AE" stroke-width="0.6"/>
<circle cx="98.2" cy="470.5" r="1.3" fill="#CFE3F5" stroke="#2468AE" stroke-width="0.6"/>
<circle cx="108" cy="468" r="1.3" fill="#CFE3F5" stroke="#2468AE" stroke-width="0.6"/>
<circle cx="108" cy="478" r="1.3" fill="#CFE3F5" stroke="#2468AE" stroke-width="0.6"/>
<circle cx="107" cy="487.5" r="1.3" fill="#CFE3F5" stroke="#2468AE" stroke-width="0.6"/>
<circle cx="123.2" cy="488.8" r="1.3" fill="#CFE3F5" stroke="#2468AE" stroke-width="0.6"/>
<circle cx="125" cy="504.2" r="1.3" fill="#CFE3F5" stroke="#2468AE" stroke-width="0.6"/>
<circle cx="35.8" cy="514.5" r="1.3" fill="#CFE3F5" stroke="#2468AE" stroke-width="0.6"/>
<circle cx="41.2" cy="519.2" r="1.3" fill="#CFE3F5" stroke="#2468AE" stroke-width="0.6"/>
<circle cx="67.5" cy="527.5" r="1.3" fill="#CFE3F5" stroke="#2468AE" stroke-width="0.6"/>
<circle cx="72.5" cy="526.8" r="1.3" fill="#CFE3F5" stroke="#2468AE" stroke-width="0.6"/>
<circle cx="98.8" cy="535.5" r="1.3" fill="#CFE3F5" stroke="#2468AE" stroke-width="0.6"/>
<circle cx="88.2" cy="540.8" r="1.3" fill="#CFE3F5" stroke="#2468AE" stroke-width="0.6"/>
<circle cx="100" cy="526.2" r="1.3" fill="#CFE3F5" stroke="#2468AE" stroke-width="0.6"/>
<circle cx="106.2" cy="508.8" r="1.3" fill="#CFE3F5" stroke="#2468AE" stroke-width="0.6"/>
<circle cx="53" cy="521" r="1.3" fill="#CFE3F5" stroke="#2468AE" stroke-width="0.6"/>
<circle cx="79" cy="532" r="1.3" fill="#CFE3F5" stroke="#2468AE" stroke-width="0.6"/>
<circle cx="51.2" cy="478.8" r="1.79" fill="#B4BDE9" stroke="#2468AE" stroke-width="0.6"/>
<circle cx="60" cy="466" r="1.79" fill="#B4BDE9" stroke="#2468AE" stroke-width="0.6"/>
<circle cx="68" cy="466" r="1.79" fill="#B4BDE9" stroke="#2468AE" stroke-width="0.6"/>
<circle cx="88" cy="468" r="2.02" fill="#B4BDE9" stroke="#2468AE" stroke-width="0.6"/>
<circle cx="100" cy="484" r="2.02" fill="#B4BDE9" stroke="#2468AE" stroke-width="0.6"/>
<circle cx="104" cy="496" r="2.02" fill="#B4BDE9" stroke="#2468AE" stroke-width="0.6"/>
<circle cx="101" cy="503" r="2.02" fill="#B4BDE9" stroke="#2468AE" stroke-width="0.6"/>
<circle cx="56.2" cy="478" r="2.24" fill="#B4BDE9" stroke="#2468AE" stroke-width="0.6"/>
<circle cx="51.2" cy="490.5" r="2.8" fill="#B4BDE9" stroke="#2468AE" stroke-width="0.6"/>
<circle cx="51.2" cy="516.2" r="2.24" fill="#B4BDE9" stroke="#2468AE" stroke-width="0.6"/>
<circle cx="74.2" cy="471.8" r="2.91" fill="#B4BDE9" stroke="#2468AE" stroke-width="0.6"/>
<circle cx="97.5" cy="490.5" r="2.69" fill="#B4BDE9" stroke="#2468AE" stroke-width="0.6"/>
<circle cx="54" cy="497" r="2.58" fill="#B4BDE9" stroke="#2468AE" stroke-width="0.6"/>
<circle cx="57" cy="510" r="2.46" fill="#B4BDE9" stroke="#2468AE" stroke-width="0.6"/>
<circle cx="96" cy="519" r="2.24" fill="#B4BDE9" stroke="#2468AE" stroke-width="0.6"/>
<circle cx="65.3" cy="484" r="3.13" fill="#B4BDE9" stroke="#2468AE" stroke-width="0.6"/>
<circle cx="87.1" cy="497.9" r="3.3" fill="#B4BDE9" stroke="#2468AE" stroke-width="0.6"/>
<circle cx="71.7" cy="497.1" r="2.85" fill="#B4BDE9" stroke="#2468AE" stroke-width="0.6"/>
<circle cx="73.3" cy="516.8" r="3.1" fill="#B4BDE9" stroke="#2468AE" stroke-width="0.6"/>
<circle cx="74.9" cy="494" r="2.24" fill="#B4BDE9" stroke="#2468AE" stroke-width="0.6"/>
<circle cx="96.1" cy="493.8" r="2.56" fill="#B4BDE9" stroke="#2468AE" stroke-width="0.6"/>
<circle cx="82.8" cy="516.9" r="3.01" fill="#B4BDE9" stroke="#2468AE" stroke-width="0.6"/>
<circle cx="74.7" cy="498.9" r="2.4" fill="#B4BDE9" stroke="#2468AE" stroke-width="0.6"/>
<circle cx="91.9" cy="496.3" r="2.62" fill="#B4BDE9" stroke="#2468AE" stroke-width="0.6"/>
<circle cx="72.7" cy="506.2" r="3.03" fill="#B4BDE9" stroke="#2468AE" stroke-width="0.6"/>
<circle cx="77" cy="476.5" r="2.26" fill="#B4BDE9" stroke="#2468AE" stroke-width="0.6"/>
<circle cx="78" cy="496.1" r="2.44" fill="#B4BDE9" stroke="#2468AE" stroke-width="0.6"/>
<circle cx="95.7" cy="486.7" r="2.63" fill="#B4BDE9" stroke="#2468AE" stroke-width="0.6"/>
<circle cx="89.8" cy="506.9" r="3.13" fill="#B4BDE9" stroke="#2468AE" stroke-width="0.6"/>
<circle cx="83.3" cy="500.3" r="2.92" fill="#B4BDE9" stroke="#2468AE" stroke-width="0.6"/>
<circle cx="70.4" cy="494" r="2.59" fill="#B4BDE9" stroke="#2468AE" stroke-width="0.6"/>
<circle cx="68.8" cy="474.6" r="2.42" fill="#B4BDE9" stroke="#2468AE" stroke-width="0.6"/>
<circle cx="63.5" cy="501" r="2.82" fill="#8E44AD" stroke="#2468AE" stroke-width="0.6"/>
<circle cx="83.5" cy="492.1" r="3.28" fill="#B4BDE9" stroke="#2468AE" stroke-width="0.6"/>
<circle cx="72.1" cy="498" r="2.62" fill="#1F7FC1" stroke="#2468AE" stroke-width="0.6"/>
<circle cx="71.2" cy="508.8" r="2.71" fill="#F4F43A" stroke="#2468AE" stroke-width="0.6"/>
<circle cx="81.2" cy="494.7" r="3.09" fill="#B4BDE9" stroke="#2468AE" stroke-width="0.6"/>
<circle cx="70.4" cy="513.6" r="2.78" fill="#B4BDE9" stroke="#2468AE" stroke-width="0.6"/>
<circle cx="45" cy="498.8" r="2.95" fill="#8E44AD" stroke="#2468AE" stroke-width="0.6"/>
<circle cx="60" cy="490" r="2.6" fill="#18A558" stroke="#2468AE" stroke-width="0.6"/>
<circle cx="80" cy="519" r="2.6" fill="#F4F43A" stroke="#2468AE" stroke-width="0.6"/>
<circle cx="83" cy="476.8" r="3.78" fill="#1F7FC1" stroke="#2468AE" stroke-width="0.6"/>
<circle cx="56.2" cy="484.2" r="2.46" fill="#B4BDE9" stroke="#2468AE" stroke-width="0.6"/>
<circle cx="73.2" cy="518.5" r="2.83" fill="#F57E17" stroke="#2468AE" stroke-width="0.6"/>
<circle cx="97.5" cy="500" r="4.13" fill="#E8141A" stroke="#2468AE" stroke-width="0.6"/>
<circle cx="74.2" cy="482" r="2.95" fill="#A34E1C" stroke="#2468AE" stroke-width="0.6"/>
<circle cx="90.5" cy="470" r="2.71" fill="#A34E1C" stroke="#2468AE" stroke-width="0.6"/>
<circle cx="69" cy="478" r="2.71" fill="#A34E1C" stroke="#2468AE" stroke-width="0.6"/>
<circle cx="92" cy="494" r="2.6" fill="#F57E17" stroke="#2468AE" stroke-width="0.6"/>
<circle cx="74" cy="500.7" r="2.78" fill="#18A558" stroke="#2468AE" stroke-width="0.6"/>
<circle cx="66.2" cy="515" r="3.07" fill="#1F7FC1" stroke="#2468AE" stroke-width="0.6"/>
<circle cx="82.3" cy="490.8" r="3.08" fill="#18A558" stroke="#2468AE" stroke-width="0.6"/>
<circle cx="63.8" cy="473.8" r="2.46" fill="#B4BDE9" stroke="#2468AE" stroke-width="0.6"/>
<circle cx="93" cy="478.8" r="2.71" fill="#A34E1C" stroke="#2468AE" stroke-width="0.6"/>
<circle cx="69.5" cy="505" r="4.13" fill="#1F7FC1" stroke="#2468AE" stroke-width="0.6"/>
<circle cx="84.5" cy="522.5" r="2.95" fill="#F4F43A" stroke="#2468AE" stroke-width="0.6"/>
<circle cx="82" cy="489.5" r="3.07" fill="#18A558" stroke="#2468AE" stroke-width="0.6"/>
<circle cx="64" cy="499.7" r="2.56" fill="#18A558" stroke="#2468AE" stroke-width="0.6"/>
<circle cx="58" cy="505" r="2.83" fill="#18A558" stroke="#2468AE" stroke-width="0.6"/>
<circle cx="83.1" cy="505" r="2.35" fill="#F57E17" stroke="#2468AE" stroke-width="0.6"/>
<circle cx="60" cy="497.5" r="2.83" fill="#8E44AD" stroke="#2468AE" stroke-width="0.6"/>
<circle cx="86.5" cy="494.7" r="2.44" fill="#E8141A" stroke="#2468AE" stroke-width="0.6"/>
<circle cx="91.1" cy="508.4" r="2.73" fill="#1F7FC1" stroke="#2468AE" stroke-width="0.6"/>
<circle cx="86" cy="514" r="2.6" fill="#8E44AD" stroke="#2468AE" stroke-width="0.6"/>
<circle cx="71.7" cy="488.7" r="2.57" fill="#1F7FC1" stroke="#2468AE" stroke-width="0.6"/>
<circle cx="78.9" cy="487.8" r="2.89" fill="#B4BDE9" stroke="#2468AE" stroke-width="0.6"/>
<circle cx="78" cy="503.8" r="4.72" fill="#1F7FC1" stroke="#2468AE" stroke-width="0.6"/>
<circle cx="60" cy="489.5" r="2.71" fill="#8E44AD" stroke="#2468AE" stroke-width="0.6"/>
<circle cx="97.7" cy="502.8" r="2.84" fill="#B4BDE9" stroke="#2468AE" stroke-width="0.6"/>
<circle cx="103" cy="477" r="3.3" fill="#E8141A" stroke="#2468AE" stroke-width="0.6"/>
<circle cx="66.2" cy="521.2" r="2.83" fill="#F4F43A" stroke="#2468AE" stroke-width="0.6"/>
<circle cx="95.8" cy="505" r="2.83" fill="#A34E1C" stroke="#2468AE" stroke-width="0.6"/>
<circle cx="45" cy="507.5" r="2.24" fill="#B4BDE9" stroke="#2468AE" stroke-width="0.6"/>
<circle cx="76.3" cy="507.3" r="3.1" fill="#1F7FC1" stroke="#2468AE" stroke-width="0.6"/>
<circle cx="88" cy="498.8" r="3.54" fill="#F57E17" stroke="#2468AE" stroke-width="0.6"/>
<circle cx="69.4" cy="511.5" r="3" fill="#F57E17" stroke="#2468AE" stroke-width="0.6"/>
<circle cx="82" cy="497" r="3.54" fill="#1F7FC1" stroke="#2468AE" stroke-width="0.6"/>
<circle cx="76.7" cy="495.9" r="2.48" fill="#B4BDE9" stroke="#2468AE" stroke-width="0.6"/>
<circle cx="70.8" cy="486.2" r="2.95" fill="#8E44AD" stroke="#2468AE" stroke-width="0.6"/>
<circle cx="80.2" cy="492.5" r="2.48" fill="#B4BDE9" stroke="#2468AE" stroke-width="0.6"/>
<circle cx="92.2" cy="490" r="3.27" fill="#B4BDE9" stroke="#2468AE" stroke-width="0.6"/>
<circle cx="102.5" cy="512" r="2.8" fill="#B4BDE9" stroke="#2468AE" stroke-width="0.6"/>
<circle cx="67" cy="491.2" r="3.78" fill="#E8141A" stroke="#2468AE" stroke-width="0.6"/>
<circle cx="84.3" cy="496.3" r="2.59" fill="#F57E17" stroke="#2468AE" stroke-width="0.6"/>
<circle cx="93.8" cy="483.8" r="3.07" fill="#E8141A" stroke="#2468AE" stroke-width="0.6"/>
<circle cx="79.5" cy="478.8" r="2.95" fill="#E8141A" stroke="#2468AE" stroke-width="0.6"/>
<circle cx="76.2" cy="483" r="2.71" fill="#F57E17" stroke="#2468AE" stroke-width="0.6"/>
<circle cx="88.5" cy="493" r="3" fill="#B4BDE9" stroke="#2468AE" stroke-width="0.6"/>
<circle cx="69.9" cy="505.6" r="3.11" fill="#B4BDE9" stroke="#2468AE" stroke-width="0.6"/>
<circle cx="71.5" cy="508.6" r="2.89" fill="#F57E17" stroke="#2468AE" stroke-width="0.6"/>
<circle cx="87.5" cy="517.5" r="3.54" fill="#F4F43A" stroke="#2468AE" stroke-width="0.6"/>
<circle cx="80" cy="477.5" r="3.3" fill="#E8141A" stroke="#2468AE" stroke-width="0.6"/>
<circle cx="77.5" cy="515" r="3.54" fill="#F57E17" stroke="#2468AE" stroke-width="0.6"/>
<circle cx="76.2" cy="487.5" r="3.78" fill="#E8141A" stroke="#2468AE" stroke-width="0.6"/>
<circle cx="75" cy="510" r="2.6" fill="#18A558" stroke="#2468AE" stroke-width="0.6"/>
<circle cx="71.3" cy="482.9" r="2.59" fill="#18A558" stroke="#2468AE" stroke-width="0.6"/>
<circle cx="65.5" cy="483.8" r="2.95" fill="#18A558" stroke="#2468AE" stroke-width="0.6"/>
<circle cx="88.6" cy="495.4" r="2.69" fill="#8E44AD" stroke="#2468AE" stroke-width="0.6"/>
<circle cx="97.1" cy="503.9" r="2.27" fill="#B4BDE9" stroke="#2468AE" stroke-width="0.6"/>
<circle cx="65.2" cy="479.2" r="2.37" fill="#B4BDE9" stroke="#2468AE" stroke-width="0.6"/>
<circle cx="97.1" cy="494" r="2.71" fill="#F4F43A" stroke="#2468AE" stroke-width="0.6"/>
<circle cx="63" cy="511.2" r="3.54" fill="#1F7FC1" stroke="#2468AE" stroke-width="0.6"/>
<circle cx="86.4" cy="511.5" r="2.4" fill="#B4BDE9" stroke="#2468AE" stroke-width="0.6"/>
<circle cx="83.1" cy="498.8" r="2.92" fill="#B4BDE9" stroke="#2468AE" stroke-width="0.6"/>
<circle cx="64" cy="500" r="2.71" fill="#8E44AD" stroke="#2468AE" stroke-width="0.6"/>
<circle cx="86" cy="480" r="2.95" fill="#E8141A" stroke="#2468AE" stroke-width="0.6"/>
<circle cx="77.5" cy="495.3" r="3.3" fill="#B4BDE9" stroke="#2468AE" stroke-width="0.6"/>
<circle cx="72.5" cy="492" r="3.07" fill="#1F7FC1" stroke="#2468AE" stroke-width="0.6"/>
<circle cx="93" cy="512" r="2.46" fill="#B4BDE9" stroke="#2468AE" stroke-width="0.6"/>
<circle cx="88" cy="493" r="2.83" fill="#18A558" stroke="#2468AE" stroke-width="0.6"/>
<circle cx="77.8" cy="497.6" r="2.41" fill="#B4BDE9" stroke="#2468AE" stroke-width="0.6"/>
<circle cx="81.4" cy="489" r="2.47" fill="#A34E1C" stroke="#2468AE" stroke-width="0.6"/>
<circle cx="91.1" cy="492.7" r="2.93" fill="#1F7FC1" stroke="#2468AE" stroke-width="0.6"/>
<circle cx="90" cy="524" r="2.24" fill="#B4BDE9" stroke="#2468AE" stroke-width="0.6"/>
<circle cx="49" cy="502" r="2.24" fill="#B4BDE9" stroke="#2468AE" stroke-width="0.6"/>
<circle cx="78.8" cy="511.2" r="2.95" fill="#F4F43A" stroke="#2468AE" stroke-width="0.6"/>
<circle cx="78.3" cy="500.6" r="2.84" fill="#F57E17" stroke="#2468AE" stroke-width="0.6"/>
<circle cx="90.5" cy="486.2" r="3.36" fill="#B4BDE9" stroke="#2468AE" stroke-width="0.6"/>
<circle cx="70.2" cy="499.8" r="2.34" fill="#E8141A" stroke="#2468AE" stroke-width="0.6"/>
<circle cx="72" cy="498" r="3.54" fill="#1F7FC1" stroke="#2468AE" stroke-width="0.6"/>
<circle cx="96.2" cy="491.7" r="2.57" fill="#B4BDE9" stroke="#2468AE" stroke-width="0.6"/>
<circle cx="85" cy="507.5" r="3.07" fill="#1F7FC1" stroke="#2468AE" stroke-width="0.6"/>
<circle cx="69.1" cy="509.9" r="2.92" fill="#A34E1C" stroke="#2468AE" stroke-width="0.6"/>
<circle cx="68.3" cy="497.6" r="2.74" fill="#F4F43A" stroke="#2468AE" stroke-width="0.6"/>
<circle cx="69.5" cy="522.5" r="2.83" fill="#F4F43A" stroke="#2468AE" stroke-width="0.6"/>
<circle cx="62.5" cy="526.2" r="2.24" fill="#B4BDE9" stroke="#2468AE" stroke-width="0.6"/>
</g>
<rect x="114.5" y="518" width="3.1" height="3.1" fill="#E8141A"/>
<rect x="114.5" y="521.8" width="3.1" height="3.1" fill="#1F7FC1"/>
<rect x="114.5" y="525.6" width="3.1" height="3.1" fill="#18A558"/>
<rect x="114.5" y="529.4" width="3.1" height="3.1" fill="#8E44AD"/>
<rect x="114.5" y="533.2" width="3.1" height="3.1" fill="#F57E17"/>
<rect x="114.5" y="537" width="3.1" height="3.1" fill="#F4F43A"/>
<rect x="114.5" y="540.8" width="3.1" height="3.1" fill="#A34E1C"/>
<g id="panelE" filter="url(#bl)">
<path d="M165 453L175 450M165 453L185 452.5M165 453L190 459.5M165 453L155.5 460M165 453L165.5 468.2M165 453L179.2 465.5M165 453L195 466.2M165 453L157.5 475M165 453L175.8 478.2M165 453L190 476.8M165 453L178.8 485.8M175 450L185 452.5M175 450L190 459.5M175 450L155.5 460M175 450L165.5 468.2M175 450L179.2 465.5M175 450L157.5 475M175 450L175.8 478.2M175 450L190 476.8M175 450L163 485M175 450L178.8 485.8M185 452.5L190 459.5M185 452.5L155.5 460M185 452.5L165.5 468.2M185 452.5L195 466.2M185 452.5L157.5 475M185 452.5L190 476.8M185 452.5L178.8 485.8M190 459.5L155.5 460M190 459.5L165.5 468.2M190 459.5L157.5 475M190 459.5L175.8 478.2M190 459.5L190 476.8M190 459.5L178.8 485.8M155.5 460L165.5 468.2M155.5 460L179.2 465.5M155.5 460L195 466.2M155.5 460L157.5 475M155.5 460L175.8 478.2M155.5 460L190 476.8M155.5 460L163 485M165.5 468.2L179.2 465.5M165.5 468.2L190 476.8M165.5 468.2L163 485M179.2 465.5L175.8 478.2M179.2 465.5L190 476.8M179.2 465.5L163 485M179.2 465.5L178.8 485.8M195 466.2L157.5 475M195 466.2L175.8 478.2M195 466.2L190 476.8M157.5 475L175.8 478.2M157.5 475L190 476.8M157.5 475L163 485M157.5 475L178.8 485.8M175.8 478.2L190 476.8M175.8 478.2L163 485M190 476.8L163 485M190 476.8L178.8 485.8M163 485L178.8 485.8" stroke="#6A3DAE" stroke-width="0.4" stroke-opacity="0.75" fill="none"/>
<circle cx="165" cy="453" r="2.5" fill="#E8141A" stroke="#2468AE" stroke-width="0.5"/>
<circle cx="175" cy="450" r="2.5" fill="#E8141A" stroke="#2468AE" stroke-width="0.5"/>
<circle cx="185" cy="452.5" r="2.5" fill="#E8141A" stroke="#2468AE" stroke-width="0.5"/>
<circle cx="190" cy="459.5" r="2.5" fill="#E8141A" stroke="#2468AE" stroke-width="0.5"/>
<circle cx="155.5" cy="460" r="2.5" fill="#E8141A" stroke="#2468AE" stroke-width="0.5"/>
<circle cx="165.5" cy="468.2" r="2.5" fill="#E8141A" stroke="#2468AE" stroke-width="0.5"/>
<circle cx="179.2" cy="465.5" r="2.5" fill="#E8141A" stroke="#2468AE" stroke-width="0.5"/>
<circle cx="195" cy="466.2" r="2.1" fill="#E8141A" stroke="#2468AE" stroke-width="0.5"/>
<circle cx="157.5" cy="475" r="2.5" fill="#E8141A" stroke="#2468AE" stroke-width="0.5"/>
<circle cx="175.8" cy="478.2" r="2.5" fill="#E8141A" stroke="#2468AE" stroke-width="0.5"/>
<circle cx="190" cy="476.8" r="2.5" fill="#E8141A" stroke="#2468AE" stroke-width="0.5"/>
<circle cx="163" cy="485" r="2.5" fill="#E8141A" stroke="#2468AE" stroke-width="0.5"/>
<circle cx="178.8" cy="485.8" r="2.5" fill="#E8141A" stroke="#2468AE" stroke-width="0.5"/>
<path d="M225.8 446.2L238 449.5M225.8 446.2L229.5 460.8M238 449.5L229.5 460.8M229.5 460.8L218 471.8M229.5 460.8L238 473M238 473L228.8 485.8M238 473L225 477.5M218 471.8L206.2 475.8M218 471.8L215.5 478.8M218 471.8L219.5 486.2M218 471.8L212.5 490M206.2 475.8L215.5 478.8M206.2 475.8L225 477.5M206.2 475.8L204.5 483M206.2 475.8L219.5 486.2M206.2 475.8L228.8 485.8M206.2 475.8L212.5 490M215.5 478.8L225 477.5M215.5 478.8L204.5 483M215.5 478.8L228.8 485.8M225 477.5L219.5 486.2M225 477.5L228.8 485.8M225 477.5L212.5 490M204.5 483L219.5 486.2M204.5 483L228.8 485.8M204.5 483L212.5 490M219.5 486.2L228.8 485.8M228.8 485.8L212.5 490" stroke="#6A3DAE" stroke-width="0.4" stroke-opacity="0.75" fill="none"/>
<circle cx="225.8" cy="446.2" r="1.3" fill="#1F7FC1" stroke="#2468AE" stroke-width="0.5"/>
<circle cx="238" cy="449.5" r="1.4" fill="#1F7FC1" stroke="#2468AE" stroke-width="0.5"/>
<circle cx="229.5" cy="460.8" r="1.5" fill="#1F7FC1" stroke="#2468AE" stroke-width="0.5"/>
<circle cx="218" cy="471.8" r="2.8" fill="#1F7FC1" stroke="#2468AE" stroke-width="0.5"/>
<circle cx="238" cy="473" r="1.3" fill="#1F7FC1" stroke="#2468AE" stroke-width="0.5"/>
<circle cx="206.2" cy="475.8" r="1.3" fill="#1F7FC1" stroke="#2468AE" stroke-width="0.5"/>
<circle cx="215.5" cy="478.8" r="2.5" fill="#1F7FC1" stroke="#2468AE" stroke-width="0.5"/>
<circle cx="225" cy="477.5" r="1.3" fill="#1F7FC1" stroke="#2468AE" stroke-width="0.5"/>
<circle cx="204.5" cy="483" r="1.3" fill="#1F7FC1" stroke="#2468AE" stroke-width="0.5"/>
<circle cx="219.5" cy="486.2" r="2.8" fill="#1F7FC1" stroke="#2468AE" stroke-width="0.5"/>
<circle cx="228.8" cy="485.8" r="2.2" fill="#1F7FC1" stroke="#2468AE" stroke-width="0.5"/>
<circle cx="212.5" cy="490" r="2.2" fill="#1F7FC1" stroke="#2468AE" stroke-width="0.5"/>
<path d="M263.5 446.8L258.5 461.8M263.5 446.8L264.8 459.5M251.5 457.5L258.5 461.8M258.5 461.8L264.8 459.5M258.5 461.8L252.2 469.5M258.5 461.8L265.5 468.2M258.5 461.8L251 477M258.5 461.8L263.5 475M264.8 459.5L265.5 468.2M264.8 459.5L274 464.5M274 464.5L265.5 468.2M274 464.5L278.5 476.2M265.5 468.2L263.5 475M265.5 468.2L278.5 476.2M252.2 469.5L251 477M252.2 469.5L263.5 475M251 477L263.5 475M251.5 457.5L252.2 469.5M264.8 459.5L263.5 475M252.2 469.5L265.5 468.2" stroke="#6A3DAE" stroke-width="0.4" stroke-opacity="0.75" fill="none"/>
<circle cx="263.5" cy="446.8" r="1.4" fill="#F57E17" stroke="#2468AE" stroke-width="0.5"/>
<circle cx="251.5" cy="457.5" r="1.4" fill="#F57E17" stroke="#2468AE" stroke-width="0.5"/>
<circle cx="258.5" cy="461.8" r="2.2" fill="#F57E17" stroke="#2468AE" stroke-width="0.5"/>
<circle cx="264.8" cy="459.5" r="1.4" fill="#F57E17" stroke="#2468AE" stroke-width="0.5"/>
<circle cx="274" cy="464.5" r="1.4" fill="#F57E17" stroke="#2468AE" stroke-width="0.5"/>
<circle cx="252.2" cy="469.5" r="1.4" fill="#F57E17" stroke="#2468AE" stroke-width="0.5"/>
<circle cx="265.5" cy="468.2" r="1.4" fill="#F57E17" stroke="#2468AE" stroke-width="0.5"/>
<circle cx="251" cy="477" r="1.4" fill="#F57E17" stroke="#2468AE" stroke-width="0.5"/>
<circle cx="263.5" cy="475" r="1.4" fill="#F57E17" stroke="#2468AE" stroke-width="0.5"/>
<circle cx="278.5" cy="476.2" r="1.4" fill="#F57E17" stroke="#2468AE" stroke-width="0.5"/>
<path d="M296.8 442.5L305.2 443.8M296.8 442.5L290.5 449.2M296.8 442.5L296 456.2M296.8 442.5L305.2 455.8M305.2 443.8L290.5 449.2M305.2 443.8L296 456.2M305.2 443.8L305.2 455.8M290.5 449.2L296 456.2M290.5 449.2L305.2 455.8M296 456.2L305.2 455.8M290.5 449.2L287.8 464.2M296 456.2L287.8 464.2M287.8 464.2L301 471.2M305.2 455.8L301 471.2M301 471.2L311.5 481.2M301 471.2L299.8 485M311.5 481.2L299.8 485M311.5 481.2L310.5 494.2M299.8 485L310.5 494.2" stroke="#6A3DAE" stroke-width="0.4" stroke-opacity="0.75" fill="none"/>
<circle cx="296.8" cy="442.5" r="1.4" fill="#7D3C98" stroke="#2468AE" stroke-width="0.5"/>
<circle cx="305.2" cy="443.8" r="1.4" fill="#7D3C98" stroke="#2468AE" stroke-width="0.5"/>
<circle cx="290.5" cy="449.2" r="1.4" fill="#7D3C98" stroke="#2468AE" stroke-width="0.5"/>
<circle cx="296" cy="456.2" r="1.4" fill="#7D3C98" stroke="#2468AE" stroke-width="0.5"/>
<circle cx="305.2" cy="455.8" r="1.4" fill="#7D3C98" stroke="#2468AE" stroke-width="0.5"/>
<circle cx="287.8" cy="464.2" r="1.4" fill="#7D3C98" stroke="#2468AE" stroke-width="0.5"/>
<circle cx="301" cy="471.2" r="1.4" fill="#7D3C98" stroke="#2468AE" stroke-width="0.5"/>
<circle cx="311.5" cy="481.2" r="1.4" fill="#7D3C98" stroke="#2468AE" stroke-width="0.5"/>
<circle cx="299.8" cy="485" r="1.4" fill="#7D3C98" stroke="#2468AE" stroke-width="0.5"/>
<circle cx="310.5" cy="494.2" r="1.4" fill="#7D3C98" stroke="#2468AE" stroke-width="0.5"/>
<path d="M182.5 511.2L193.8 513.2M182.5 511.2L182.5 521.8M182.5 511.2L187.5 526.8M193.8 513.2L182.5 521.8M193.8 513.2L187.5 526.8M193.8 513.2L199.2 523M172.5 517.5L182.5 521.8M172.5 517.5L167.5 527.5M182.5 521.8L187.5 526.8M182.5 521.8L167.5 527.5M182.5 521.8L177 535M182.5 521.8L199.2 523M187.5 526.8L199.2 523M187.5 526.8L195 532.5M187.5 526.8L177 535M187.5 526.8L188.8 541.8M167.5 527.5L177 535M195 532.5L188.8 541.8M177 535L188.8 541.8M182.5 511.2L172.5 517.5M199.2 523L195 532.5M172.5 517.5L187.5 526.8" stroke="#6A3DAE" stroke-width="0.4" stroke-opacity="0.75" fill="none"/>
<circle cx="182.5" cy="511.2" r="1.4" fill="#18A558" stroke="#2468AE" stroke-width="0.5"/>
<circle cx="193.8" cy="513.2" r="1.4" fill="#18A558" stroke="#2468AE" stroke-width="0.5"/>
<circle cx="172.5" cy="517.5" r="1.4" fill="#18A558" stroke="#2468AE" stroke-width="0.5"/>
<circle cx="182.5" cy="521.8" r="2.5" fill="#18A558" stroke="#2468AE" stroke-width="0.5"/>
<circle cx="187.5" cy="526.8" r="2.5" fill="#18A558" stroke="#2468AE" stroke-width="0.5"/>
<circle cx="199.2" cy="523" r="1.4" fill="#18A558" stroke="#2468AE" stroke-width="0.5"/>
<circle cx="167.5" cy="527.5" r="1.4" fill="#18A558" stroke="#2468AE" stroke-width="0.5"/>
<circle cx="195" cy="532.5" r="1.4" fill="#18A558" stroke="#2468AE" stroke-width="0.5"/>
<circle cx="177" cy="535" r="1.4" fill="#18A558" stroke="#2468AE" stroke-width="0.5"/>
<circle cx="188.8" cy="541.8" r="1.4" fill="#18A558" stroke="#2468AE" stroke-width="0.5"/>
<path d="M215 511.2L226.2 512.5M215 511.2L218.8 520M215 511.2L211.2 523M226.2 512.5L218.8 520M226.2 512.5L227 525M218.8 520L211.2 523M218.8 520L227 525M211.2 523L227 525M215 511.2L227 525M227 525L240 530.8M227 525L230 538.8M240 530.8L230 538.8M226.2 512.5L211.2 523" stroke="#6A3DAE" stroke-width="0.4" stroke-opacity="0.75" fill="none"/>
<circle cx="215" cy="511.2" r="1.4" fill="#EEF03C" stroke="#5E9C5A" stroke-width="0.5"/>
<circle cx="226.2" cy="512.5" r="1.4" fill="#EEF03C" stroke="#5E9C5A" stroke-width="0.5"/>
<circle cx="218.8" cy="520" r="1.4" fill="#EEF03C" stroke="#5E9C5A" stroke-width="0.5"/>
<circle cx="211.2" cy="523" r="1.4" fill="#EEF03C" stroke="#5E9C5A" stroke-width="0.5"/>
<circle cx="227" cy="525" r="2.5" fill="#EEF03C" stroke="#5E9C5A" stroke-width="0.5"/>
<circle cx="240" cy="530.8" r="1.4" fill="#EEF03C" stroke="#5E9C5A" stroke-width="0.5"/>
<circle cx="230" cy="538.8" r="1.4" fill="#EEF03C" stroke="#5E9C5A" stroke-width="0.5"/>
<path d="M252.4 511.5L259.2 523.1M265.5 511L259.2 523.1M259.2 523.1L253.4 534.5M259.2 523.1L266.1 534.2M253.4 534.5L266.1 534.2" stroke="#6A3DAE" stroke-width="0.4" stroke-opacity="0.75" fill="none"/>
<circle cx="252.4" cy="511.5" r="1.4" fill="#A34E1C" stroke="#2468AE" stroke-width="0.5"/>
<circle cx="265.5" cy="511" r="1.4" fill="#A34E1C" stroke="#2468AE" stroke-width="0.5"/>
<circle cx="259.2" cy="523.1" r="1.4" fill="#A34E1C" stroke="#2468AE" stroke-width="0.5"/>
<circle cx="253.4" cy="534.5" r="1.4" fill="#A34E1C" stroke="#2468AE" stroke-width="0.5"/>
<circle cx="266.1" cy="534.2" r="1.4" fill="#A34E1C" stroke="#2468AE" stroke-width="0.5"/>
</g>
<rect x="305.25" y="518" width="3.1" height="3.1" fill="#E8141A"/>
<rect x="305.25" y="521.8" width="3.1" height="3.1" fill="#1F7FC1"/>
<rect x="305.25" y="525.6" width="3.1" height="3.1" fill="#18A558"/>
<rect x="305.25" y="529.4" width="3.1" height="3.1" fill="#8E44AD"/>
<rect x="305.25" y="533.2" width="3.1" height="3.1" fill="#F57E17"/>
<rect x="305.25" y="537" width="3.1" height="3.1" fill="#F4F43A"/>
<rect x="305.25" y="540.8" width="3.1" height="3.1" fill="#A34E1C"/>
</svg>
<div id="tx">
<div class="t l" style="font-size:59px;transform:translate(3.9px,6.86px) scale(0.1) skewY(0.3deg);color:#000;font-weight:bold;-webkit-text-stroke:0;">A</div>
<div class="t d" style="font-size:43px;transform:translate(164.6px,9.86px) scale(0.1) skewY(0.3deg);color:#222;">R-HSA-1640170: Cell Cycle</div>
<div class="t d" style="font-size:43px;transform:translate(164.6px,15.16px) scale(0.1) skewY(0.3deg);color:#222;">GO:1903047: mitotic cell cycle process</div>
<div class="t d" style="font-size:43px;transform:translate(164.6px,20.46px) scale(0.1) skewY(0.3deg);color:#222;">WP2446: Retinoblastoma gene in cancer</div>
<div class="t d" style="font-size:43px;transform:translate(164.6px,25.76px) scale(0.1) skewY(0.3deg);color:#222;">GO:0006259: DNA metabolic process</div>
<div class="t d" style="font-size:43px;transform:translate(164.6px,31.06px) scale(0.1) skewY(0.3deg);color:#222;">GO:0010564: regulation of cell cycle process</div>
<div class="t d" style="font-size:43px;transform:translate(164.6px,36.36px) scale(0.1) skewY(0.3deg);color:#222;">hsa04218: Cellular senescence</div>
<div class="t d" style="font-size:43px;transform:translate(164.6px,41.66px) scale(0.1) skewY(0.3deg);color:#222;">R-HSA-3700989: Transcriptional Regulation by TP53</div>
<div class="t d" style="font-size:43px;transform:translate(164.6px,46.96px) scale(0.1) skewY(0.3deg);color:#222;">M66: PID MYC ACTIV PATHWAY</div>
<div class="t d" style="font-size:43px;transform:translate(164.6px,52.26px) scale(0.1) skewY(0.3deg);color:#222;">WP1971: Integrated cancer pathway</div>
<div class="t d" style="font-size:43px;transform:translate(164.6px,57.56px) scale(0.1) skewY(0.3deg);color:#222;">GO:0007005: mitochondrion organization</div>
<div class="t d" style="font-size:43px;transform:translate(164.6px,62.86px) scale(0.1) skewY(0.3deg);color:#222;">R-HSA-1538133: G0 and Early G1</div>
<div class="t d" style="font-size:43px;transform:translate(164.6px,68.16px) scale(0.1) skewY(0.3deg);color:#222;">GO:0033365: protein localization to organelle</div>
<div class="t d" style="font-size:43px;transform:translate(164.6px,73.46px) scale(0.1) skewY(0.3deg);color:#222;">GO:0016447: somatic recombination of immunoglobulin gene segments</div>
<div class="t d" style="font-size:43px;transform:translate(164.6px,78.76px) scale(0.1) skewY(0.3deg);color:#222;">GO:0006091: generation of precursor metabolites and energy</div>
<div class="t d" style="font-size:43px;transform:translate(164.6px,84.06px) scale(0.1) skewY(0.3deg);color:#222;">GO:0000723: telomere maintenance</div>
<div class="t d" style="font-size:43px;transform:translate(164.6px,89.36px) scale(0.1) skewY(0.3deg);color:#222;">hsa05200: Pathways in cancer</div>
<div class="t d" style="font-size:43px;transform:translate(164.6px,94.66px) scale(0.1) skewY(0.3deg);color:#222;">GO:0034660: ncRNA metabolic process</div>
<div class="t d" style="font-size:43px;transform:translate(164.6px,99.96px) scale(0.1) skewY(0.3deg);color:#222;">GO:0090141: positive regulation of mitochondrial fission</div>
<div class="t d" style="font-size:43px;transform:translate(164.6px,105.26px) scale(0.1) skewY(0.3deg);color:#222;">GO:1903046: meiotic cell cycle process</div>
<div class="t d" style="font-size:43px;transform:translate(164.6px,110.56px) scale(0.1) skewY(0.3deg);color:#222;">GO:0031100: animal organ regeneration</div>
<div class="t d" style="font-size:41px;transform:translate(19.4px,119.58px) scale(0.1) skewY(0.3deg) translateX(-50%);color:#222;">0</div>
<div class="t d" style="font-size:41px;transform:translate(40.8px,119.58px) scale(0.1) skewY(0.3deg) translateX(-50%);color:#222;">5</div>
<div class="t d" style="font-size:41px;transform:translate(62.2px,119.58px) scale(0.1) skewY(0.3deg) translateX(-50%);color:#222;">10</div>
<div class="t d" style="font-size:41px;transform:translate(83.6px,119.58px) scale(0.1) skewY(0.3deg) translateX(-50%);color:#222;">15</div>
<div class="t d" style="font-size:41px;transform:translate(105px,119.58px) scale(0.1) skewY(0.3deg) translateX(-50%);color:#222;">20</div>
<div class="t d" style="font-size:41px;transform:translate(126.4px,119.58px) scale(0.1) skewY(0.3deg) translateX(-50%);color:#222;">25</div>
<div class="t d" style="font-size:41px;transform:translate(147.8px,119.58px) scale(0.1) skewY(0.3deg) translateX(-50%);color:#222;">30</div>
<div class="t d" style="font-size:41px;transform:translate(91.2px,125.58px) scale(0.1) skewY(0.3deg) translateX(-50%);color:#222;">-log10(P)</div>
<div class="t l" style="font-size:59px;transform:translate(4px,135.76px) scale(0.1) skewY(0.3deg);color:#000;font-weight:bold;-webkit-text-stroke:0;">B</div>
<div class="t l" style="font-size:59px;transform:translate(3.8px,274.76px) scale(0.1) skewY(0.3deg);color:#000;font-weight:bold;-webkit-text-stroke:0;">C</div>
<div class="t l" style="font-size:45.7px;transform:translate(217px,157.77px) scale(0.1) skewY(0.3deg);color:#1a1a1a;">Cell Cycle</div>
<div class="t l" style="font-size:45.7px;transform:translate(217px,162.99px) scale(0.1) skewY(0.3deg);color:#1a1a1a;">mitotic cell cycle process</div>
<div class="t l" style="font-size:45.7px;transform:translate(217px,168.22px) scale(0.1) skewY(0.3deg);color:#1a1a1a;">Retinoblastoma gene in cancer</div>
<div class="t l" style="font-size:45.7px;transform:translate(217px,173.44px) scale(0.1) skewY(0.3deg);color:#1a1a1a;">DNA metabolic process</div>
<div class="t l" style="font-size:45.7px;transform:translate(217px,178.66px) scale(0.1) skewY(0.3deg);color:#1a1a1a;">regulation of cell cycle process</div>
<div class="t l" style="font-size:45.7px;transform:translate(217px,183.89px) scale(0.1) skewY(0.3deg);color:#1a1a1a;">Cellular senescence</div>
<div class="t l" style="font-size:45.7px;transform:translate(217px,189.11px) scale(0.1) skewY(0.3deg);color:#1a1a1a;">Transcriptional Regulation by TP53</div>
<div class="t l" style="font-size:45.7px;transform:translate(217px,194.34px) scale(0.1) skewY(0.3deg);color:#1a1a1a;">PID MYC ACTIV PATHWAY</div>
<div class="t l" style="font-size:45.7px;transform:translate(217px,199.56px) scale(0.1) skewY(0.3deg);color:#1a1a1a;">Integrated cancer pathway</div>
<div class="t l" style="font-size:45.7px;transform:translate(217px,204.78px) scale(0.1) skewY(0.3deg);color:#1a1a1a;">mitochondrion organization</div>
<div class="t l" style="font-size:45.7px;transform:translate(217px,210.01px) scale(0.1) skewY(0.3deg);color:#1a1a1a;">G0 and Early G1</div>
<div class="t l" style="font-size:45.7px;transform:translate(217px,215.23px) scale(0.1) skewY(0.3deg);color:#1a1a1a;">protein localization to organelle</div>
<div class="t l" style="font-size:45.7px;transform:translate(217px,220.46px) scale(0.1) skewY(0.3deg);color:#1a1a1a;">somatic recombination of immunoglobulin gene segm</div>
<div class="t l" style="font-size:45.7px;transform:translate(217px,225.68px) scale(0.1) skewY(0.3deg);color:#1a1a1a;">generation of precursor metabolites and energy</div>
<div class="t l" style="font-size:45.7px;transform:translate(217px,230.9px) scale(0.1) skewY(0.3deg);color:#1a1a1a;">telomere maintenance</div>
<div class="t l" style="font-size:45.7px;transform:translate(217px,236.13px) scale(0.1) skewY(0.3deg);color:#1a1a1a;">Pathways in cancer</div>
<div class="t l" style="font-size:45.7px;transform:translate(217px,241.35px) scale(0.1) skewY(0.3deg);color:#1a1a1a;">ncRNA metabolic process</div>
<div class="t l" style="font-size:45.7px;transform:translate(217px,246.58px) scale(0.1) skewY(0.3deg);color:#1a1a1a;">positive regulation of mitochondrial fission</div>
<div class="t l" style="font-size:45.7px;transform:translate(217px,251.8px) scale(0.1) skewY(0.3deg);color:#1a1a1a;">meiotic cell cycle process</div>
<div class="t l" style="font-size:45.7px;transform:translate(217px,257.02px) scale(0.1) skewY(0.3deg);color:#1a1a1a;">animal organ regeneration</div>
<div class="t l" style="font-size:62px;transform:translate(272.4px,339.7px) scale(0.1) skewY(0.3deg);color:#000;-webkit-text-stroke:1.5px #000;">10</div>
<div class="t l" style="font-size:40px;transform:translate(279.4px,337.77px) scale(0.1) skewY(0.3deg);color:#000;-webkit-text-stroke:1px #000;">-2</div>
<div class="t l" style="font-size:62px;transform:translate(272.4px,351.07px) scale(0.1) skewY(0.3deg);color:#000;-webkit-text-stroke:1.5px #000;">10</div>
<div class="t l" style="font-size:40px;transform:translate(279.4px,349.14px) scale(0.1) skewY(0.3deg);color:#000;-webkit-text-stroke:1px #000;">-3</div>
<div class="t l" style="font-size:62px;transform:translate(272.4px,362.44px) scale(0.1) skewY(0.3deg);color:#000;-webkit-text-stroke:1.5px #000;">10</div>
<div class="t l" style="font-size:40px;transform:translate(279.4px,360.51px) scale(0.1) skewY(0.3deg);color:#000;-webkit-text-stroke:1px #000;">-4</div>
<div class="t l" style="font-size:62px;transform:translate(272.4px,373.81px) scale(0.1) skewY(0.3deg);color:#000;-webkit-text-stroke:1.5px #000;">10</div>
<div class="t l" style="font-size:40px;transform:translate(279.4px,371.88px) scale(0.1) skewY(0.3deg);color:#000;-webkit-text-stroke:1px #000;">-6</div>
<div class="t l" style="font-size:62px;transform:translate(272.4px,385.18px) scale(0.1) skewY(0.3deg);color:#000;-webkit-text-stroke:1.5px #000;">10</div>
<div class="t l" style="font-size:40px;transform:translate(279.4px,383.25px) scale(0.1) skewY(0.3deg);color:#000;-webkit-text-stroke:1px #000;">-10</div>
<div class="t l" style="font-size:62px;transform:translate(272.4px,396.55px) scale(0.1) skewY(0.3deg);color:#000;-webkit-text-stroke:1.5px #000;">10</div>
<div class="t l" style="font-size:40px;transform:translate(279.4px,394.62px) scale(0.1) skewY(0.3deg);color:#000;-webkit-text-stroke:1px #000;">-20</div>
<div class="t l" style="font-size:59px;transform:translate(2.6px,437.96px) scale(0.1) skewY(0.3deg);color:#000;font-weight:bold;-webkit-text-stroke:0;">D</div>
<div class="t l" style="font-size:34px;transform:translate(118.1px,519.67px) scale(0.1) skewY(0.3deg);color:#111;">MCODE1</div>
<div class="t l" style="font-size:34px;transform:translate(118.1px,523.47px) scale(0.1) skewY(0.3deg);color:#111;">MCODE2</div>
<div class="t l" style="font-size:34px;transform:translate(118.1px,527.27px) scale(0.1) skewY(0.3deg);color:#111;">MCODE3</div>
<div class="t l" style="font-size:34px;transform:translate(118.1px,531.07px) scale(0.1) skewY(0.3deg);color:#111;">MCODE4</div>
<div class="t l" style="font-size:34px;transform:translate(118.1px,534.87px) scale(0.1) skewY(0.3deg);color:#111;">MCODE5</div>
<div class="t l" style="font-size:34px;transform:translate(118.1px,538.67px) scale(0.1) skewY(0.3deg);color:#111;">MCODE6</div>
<div class="t l" style="font-size:34px;transform:translate(118.1px,542.47px) scale(0.1) skewY(0.3deg);color:#111;">MCODE7</div>
<div class="t l" style="font-size:59px;transform:translate(144.5px,437.96px) scale(0.1) skewY(0.3deg);color:#000;font-weight:bold;-webkit-text-stroke:0;">E</div>
<div class="t l" style="font-size:34px;transform:translate(308.85px,519.67px) scale(0.1) skewY(0.3deg);color:#111;">MCODE1</div>
<div class="t l" style="font-size:34px;transform:translate(308.85px,523.47px) scale(0.1) skewY(0.3deg);color:#111;">MCODE2</div>
<div class="t l" style="font-size:34px;transform:translate(308.85px,527.27px) scale(0.1) skewY(0.3deg);color:#111;">MCODE3</div>
<div class="t l" style="font-size:34px;transform:translate(308.85px,531.07px) scale(0.1) skewY(0.3deg);color:#111;">MCODE4</div>
<div class="t l" style="font-size:34px;transform:translate(308.85px,534.87px) scale(0.1) skewY(0.3deg);color:#111;">MCODE5</div>
<div class="t l" style="font-size:34px;transform:translate(308.85px,538.67px) scale(0.1) skewY(0.3deg);color:#111;">MCODE6</div>
<div class="t l" style="font-size:34px;transform:translate(308.85px,542.47px) scale(0.1) skewY(0.3deg);color:#111;">MCODE7</div>
</div></body></html>
